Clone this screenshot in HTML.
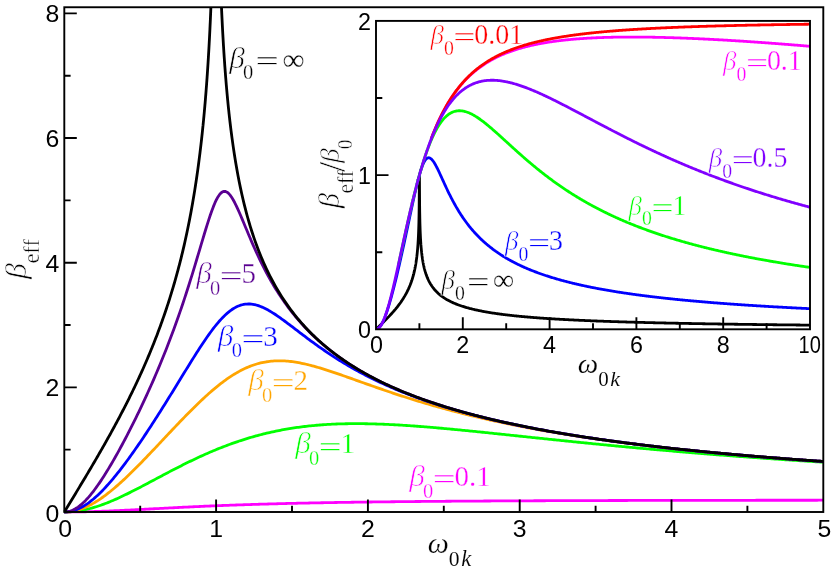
<!DOCTYPE html>
<html lang="en"><head><meta charset="utf-8"><title>beta_eff vs omega_0k</title>
<style>html,body{margin:0;padding:0;background:#fff}svg{display:block}</style></head>
<body>
<svg width="831" height="571" viewBox="0 0 831 571">
<rect width="831" height="571" fill="#fff"/>
<defs><clipPath id="cm"><rect x="63.3" y="7.25" width="760.0" height="506.75"/></clipPath><clipPath id="ci"><rect x="376.0" y="20.9" width="434.0" height="308.40000000000003"/></clipPath></defs>
<g clip-path="url(#cm)" fill="none" stroke-linejoin="round" stroke-linecap="butt" stroke-width="2.8">
<path d="M64.32,512.00 L65.84,512.00 L67.36,511.99 L68.88,511.99 L70.40,511.98 L71.92,511.97 L73.44,511.95 L74.96,511.94 L76.48,511.92 L78.00,511.90 L79.53,511.88 L81.05,511.85 L82.57,511.82 L84.09,511.79 L85.61,511.76 L87.13,511.72 L88.65,511.69 L90.17,511.65 L91.69,511.61 L93.21,511.56 L94.74,511.52 L96.26,511.47 L97.78,511.42 L99.30,511.37 L100.82,511.32 L102.34,511.26 L103.86,511.21 L105.38,511.15 L106.90,511.09 L108.42,511.03 L109.95,510.97 L111.47,510.90 L112.99,510.84 L114.51,510.77 L116.03,510.70 L117.55,510.63 L119.07,510.56 L120.59,510.49 L122.11,510.42 L123.63,510.35 L125.16,510.27 L126.68,510.20 L128.20,510.12 L129.72,510.05 L131.24,509.97 L132.76,509.89 L134.28,509.82 L135.80,509.74 L137.32,509.66 L138.84,509.58 L140.37,509.50 L141.89,509.42 L143.41,509.34 L144.93,509.26 L146.45,509.18 L147.97,509.10 L149.49,509.01 L151.01,508.93 L152.53,508.85 L154.05,508.77 L155.58,508.69 L157.10,508.61 L158.62,508.53 L160.14,508.45 L161.66,508.37 L163.18,508.29 L164.70,508.21 L166.22,508.13 L167.74,508.05 L169.26,507.97 L170.79,507.89 L172.31,507.81 L173.83,507.73 L175.35,507.65 L176.87,507.58 L178.39,507.50 L179.91,507.42 L181.43,507.35 L182.95,507.27 L184.48,507.20 L186.00,507.12 L187.52,507.05 L189.04,506.98 L190.56,506.90 L192.08,506.83 L193.60,506.76 L195.12,506.69 L196.64,506.62 L198.16,506.55 L199.69,506.48 L201.21,506.41 L202.73,506.34 L204.25,506.27 L205.77,506.21 L207.29,506.14 L208.81,506.07 L210.33,506.01 L211.85,505.94 L213.37,505.88 L214.90,505.82 L216.42,505.75 L217.94,505.69 L219.46,505.63 L220.98,505.57 L222.50,505.51 L224.02,505.45 L225.54,505.39 L227.06,505.33 L228.58,505.28 L230.11,505.22 L231.63,505.16 L233.15,505.11 L234.67,505.05 L236.19,505.00 L237.71,504.94 L239.23,504.89 L240.75,504.84 L242.27,504.78 L243.79,504.73 L245.32,504.68 L246.84,504.63 L248.36,504.58 L249.88,504.53 L251.40,504.48 L252.92,504.43 L254.44,504.39 L255.96,504.34 L257.48,504.29 L259.00,504.25 L260.53,504.20 L262.05,504.16 L263.57,504.11 L265.09,504.07 L266.61,504.03 L268.13,503.98 L269.65,503.94 L271.17,503.90 L272.69,503.86 L274.21,503.82 L275.74,503.78 L277.26,503.74 L278.78,503.70 L280.30,503.66 L281.82,503.62 L283.34,503.58 L284.86,503.54 L286.38,503.51 L287.90,503.47 L289.42,503.43 L290.95,503.40 L292.47,503.36 L293.99,503.33 L295.51,503.29 L297.03,503.26 L298.55,503.22 L300.07,503.19 L301.59,503.16 L303.11,503.12 L304.64,503.09 L306.16,503.06 L307.68,503.03 L309.20,503.00 L310.72,502.97 L312.24,502.94 L313.76,502.91 L315.28,502.88 L316.80,502.85 L318.32,502.82 L319.85,502.79 L321.37,502.76 L322.89,502.73 L324.41,502.71 L325.93,502.68 L327.45,502.65 L328.97,502.63 L330.49,502.60 L332.01,502.57 L333.53,502.55 L335.06,502.52 L336.58,502.50 L338.10,502.47 L339.62,502.45 L341.14,502.42 L342.66,502.40 L344.18,502.38 L345.70,502.35 L347.22,502.33 L348.74,502.31 L350.27,502.28 L351.79,502.26 L353.31,502.24 L354.83,502.22 L356.35,502.20 L357.87,502.17 L359.39,502.15 L360.91,502.13 L362.43,502.11 L363.95,502.09 L365.48,502.07 L367.00,502.05 L368.52,502.03 L370.04,502.01 L371.56,501.99 L373.08,501.97 L374.60,501.95 L376.12,501.94 L377.64,501.92 L379.16,501.90 L380.69,501.88 L382.21,501.86 L383.73,501.85 L385.25,501.83 L386.77,501.81 L388.29,501.79 L389.81,501.78 L391.33,501.76 L392.85,501.74 L394.37,501.73 L395.90,501.71 L397.42,501.70 L398.94,501.68 L400.46,501.66 L401.98,501.65 L403.50,501.63 L405.02,501.62 L406.54,501.60 L408.06,501.59 L409.58,501.57 L411.11,501.56 L412.63,501.54 L414.15,501.53 L415.67,501.52 L417.19,501.50 L418.71,501.49 L420.23,501.48 L421.75,501.46 L423.27,501.45 L424.79,501.44 L426.32,501.42 L427.84,501.41 L429.36,501.40 L430.88,501.38 L432.40,501.37 L433.92,501.36 L435.44,501.35 L436.96,501.34 L438.48,501.32 L440.01,501.31 L441.53,501.30 L443.05,501.29 L444.57,501.28 L446.09,501.27 L447.61,501.25 L449.13,501.24 L450.65,501.23 L452.17,501.22 L453.69,501.21 L455.22,501.20 L456.74,501.19 L458.26,501.18 L459.78,501.17 L461.30,501.16 L462.82,501.15 L464.34,501.14 L465.86,501.13 L467.38,501.12 L468.90,501.11 L470.43,501.10 L471.95,501.09 L473.47,501.08 L474.99,501.07 L476.51,501.06 L478.03,501.05 L479.55,501.04 L481.07,501.03 L482.59,501.03 L484.11,501.02 L485.64,501.01 L487.16,501.00 L488.68,500.99 L490.20,500.98 L491.72,500.97 L493.24,500.97 L494.76,500.96 L496.28,500.95 L497.80,500.94 L499.32,500.93 L500.85,500.93 L502.37,500.92 L503.89,500.91 L505.41,500.90 L506.93,500.89 L508.45,500.89 L509.97,500.88 L511.49,500.87 L513.01,500.87 L514.53,500.86 L516.06,500.85 L517.58,500.84 L519.10,500.84 L520.62,500.83 L522.14,500.82 L523.66,500.82 L525.18,500.81 L526.70,500.80 L528.22,500.80 L529.74,500.79 L531.27,500.78 L532.79,500.78 L534.31,500.77 L535.83,500.76 L537.35,500.76 L538.87,500.75 L540.39,500.75 L541.91,500.74 L543.43,500.73 L544.95,500.73 L546.48,500.72 L548.00,500.72 L549.52,500.71 L551.04,500.70 L552.56,500.70 L554.08,500.69 L555.60,500.69 L557.12,500.68 L558.64,500.68 L560.16,500.67 L561.69,500.67 L563.21,500.66 L564.73,500.66 L566.25,500.65 L567.77,500.65 L569.29,500.64 L570.81,500.63 L572.33,500.63 L573.85,500.63 L575.38,500.62 L576.90,500.62 L578.42,500.61 L579.94,500.61 L581.46,500.60 L582.98,500.60 L584.50,500.59 L586.02,500.59 L587.54,500.58 L589.06,500.58 L590.59,500.57 L592.11,500.57 L593.63,500.56 L595.15,500.56 L596.67,500.56 L598.19,500.55 L599.71,500.55 L601.23,500.54 L602.75,500.54 L604.27,500.54 L605.80,500.53 L607.32,500.53 L608.84,500.52 L610.36,500.52 L611.88,500.52 L613.40,500.51 L614.92,500.51 L616.44,500.50 L617.96,500.50 L619.48,500.50 L621.01,500.49 L622.53,500.49 L624.05,500.49 L625.57,500.48 L627.09,500.48 L628.61,500.47 L630.13,500.47 L631.65,500.47 L633.17,500.46 L634.69,500.46 L636.22,500.46 L637.74,500.45 L639.26,500.45 L640.78,500.45 L642.30,500.44 L643.82,500.44 L645.34,500.44 L646.86,500.43 L648.38,500.43 L649.90,500.43 L651.43,500.43 L652.95,500.42 L654.47,500.42 L655.99,500.42 L657.51,500.41 L659.03,500.41 L660.55,500.41 L662.07,500.40 L663.59,500.40 L665.11,500.40 L666.64,500.40 L668.16,500.39 L669.68,500.39 L671.20,500.39 L672.72,500.39 L674.24,500.38 L675.76,500.38 L677.28,500.38 L678.80,500.38 L680.32,500.37 L681.85,500.37 L683.37,500.37 L684.89,500.37 L686.41,500.36 L687.93,500.36 L689.45,500.36 L690.97,500.36 L692.49,500.35 L694.01,500.35 L695.54,500.35 L697.06,500.35 L698.58,500.34 L700.10,500.34 L701.62,500.34 L703.14,500.34 L704.66,500.34 L706.18,500.33 L707.70,500.33 L709.22,500.33 L710.75,500.33 L712.27,500.32 L713.79,500.32 L715.31,500.32 L716.83,500.32 L718.35,500.32 L719.87,500.31 L721.39,500.31 L722.91,500.31 L724.43,500.31 L725.96,500.31 L727.48,500.31 L729.00,500.30 L730.52,500.30 L732.04,500.30 L733.56,500.30 L735.08,500.30 L736.60,500.29 L738.12,500.29 L739.64,500.29 L741.17,500.29 L742.69,500.29 L744.21,500.29 L745.73,500.28 L747.25,500.28 L748.77,500.28 L750.29,500.28 L751.81,500.28 L753.33,500.28 L754.85,500.28 L756.38,500.27 L757.90,500.27 L759.42,500.27 L760.94,500.27 L762.46,500.27 L763.98,500.27 L765.50,500.26 L767.02,500.26 L768.54,500.26 L770.06,500.26 L771.59,500.26 L773.11,500.26 L774.63,500.26 L776.15,500.26 L777.67,500.25 L779.19,500.25 L780.71,500.25 L782.23,500.25 L783.75,500.25 L785.27,500.25 L786.80,500.25 L788.32,500.25 L789.84,500.24 L791.36,500.24 L792.88,500.24 L794.40,500.24 L795.92,500.24 L797.44,500.24 L798.96,500.24 L800.48,500.24 L802.01,500.24 L803.53,500.23 L805.05,500.23 L806.57,500.23 L808.09,500.23 L809.61,500.23 L811.13,500.23 L812.65,500.23 L814.17,500.23 L815.69,500.23 L817.22,500.23 L818.74,500.22 L820.26,500.22 L821.78,500.22 L823.30,500.22" stroke="#ff00ff"/>
<path d="M64.32,512.00 L65.84,511.99 L67.36,511.95 L68.88,511.89 L70.40,511.80 L71.92,511.69 L73.44,511.55 L74.96,511.39 L76.48,511.20 L78.00,510.99 L79.53,510.76 L81.05,510.50 L82.57,510.22 L84.09,509.92 L85.61,509.59 L87.13,509.25 L88.65,508.88 L90.17,508.49 L91.69,508.08 L93.21,507.65 L94.74,507.20 L96.26,506.73 L97.78,506.24 L99.30,505.73 L100.82,505.21 L102.34,504.66 L103.86,504.11 L105.38,503.53 L106.90,502.94 L108.42,502.34 L109.95,501.72 L111.47,501.08 L112.99,500.44 L114.51,499.78 L116.03,499.11 L117.55,498.43 L119.07,497.73 L120.59,497.03 L122.11,496.31 L123.63,495.59 L125.16,494.86 L126.68,494.12 L128.20,493.37 L129.72,492.62 L131.24,491.85 L132.76,491.09 L134.28,490.31 L135.80,489.53 L137.32,488.75 L138.84,487.96 L140.37,487.17 L141.89,486.37 L143.41,485.57 L144.93,484.77 L146.45,483.97 L147.97,483.16 L149.49,482.35 L151.01,481.55 L152.53,480.74 L154.05,479.93 L155.58,479.12 L157.10,478.31 L158.62,477.50 L160.14,476.69 L161.66,475.89 L163.18,475.08 L164.70,474.28 L166.22,473.48 L167.74,472.68 L169.26,471.88 L170.79,471.09 L172.31,470.30 L173.83,469.51 L175.35,468.72 L176.87,467.94 L178.39,467.17 L179.91,466.40 L181.43,465.63 L182.95,464.87 L184.48,464.11 L186.00,463.35 L187.52,462.61 L189.04,461.86 L190.56,461.13 L192.08,460.39 L193.60,459.67 L195.12,458.95 L196.64,458.23 L198.16,457.52 L199.69,456.82 L201.21,456.13 L202.73,455.44 L204.25,454.75 L205.77,454.08 L207.29,453.41 L208.81,452.75 L210.33,452.09 L211.85,451.44 L213.37,450.80 L214.90,450.17 L216.42,449.54 L217.94,448.92 L219.46,448.31 L220.98,447.70 L222.50,447.11 L224.02,446.52 L225.54,445.94 L227.06,445.36 L228.58,444.80 L230.11,444.24 L231.63,443.69 L233.15,443.15 L234.67,442.61 L236.19,442.08 L237.71,441.57 L239.23,441.05 L240.75,440.55 L242.27,440.06 L243.79,439.57 L245.32,439.09 L246.84,438.62 L248.36,438.16 L249.88,437.70 L251.40,437.26 L252.92,436.82 L254.44,436.39 L255.96,435.96 L257.48,435.55 L259.00,435.14 L260.53,434.74 L262.05,434.35 L263.57,433.97 L265.09,433.60 L266.61,433.23 L268.13,432.87 L269.65,432.52 L271.17,432.17 L272.69,431.84 L274.21,431.51 L275.74,431.19 L277.26,430.88 L278.78,430.57 L280.30,430.27 L281.82,429.98 L283.34,429.70 L284.86,429.42 L286.38,429.16 L287.90,428.90 L289.42,428.64 L290.95,428.40 L292.47,428.16 L293.99,427.92 L295.51,427.70 L297.03,427.48 L298.55,427.27 L300.07,427.06 L301.59,426.87 L303.11,426.68 L304.64,426.49 L306.16,426.31 L307.68,426.14 L309.20,425.98 L310.72,425.82 L312.24,425.67 L313.76,425.52 L315.28,425.38 L316.80,425.25 L318.32,425.12 L319.85,425.00 L321.37,424.88 L322.89,424.77 L324.41,424.66 L325.93,424.57 L327.45,424.47 L328.97,424.38 L330.49,424.30 L332.01,424.22 L333.53,424.15 L335.06,424.09 L336.58,424.02 L338.10,423.97 L339.62,423.92 L341.14,423.87 L342.66,423.83 L344.18,423.79 L345.70,423.76 L347.22,423.73 L348.74,423.71 L350.27,423.69 L351.79,423.67 L353.31,423.66 L354.83,423.66 L356.35,423.65 L357.87,423.66 L359.39,423.66 L360.91,423.67 L362.43,423.69 L363.95,423.71 L365.48,423.73 L367.00,423.75 L368.52,423.78 L370.04,423.81 L371.56,423.85 L373.08,423.89 L374.60,423.93 L376.12,423.98 L377.64,424.03 L379.16,424.08 L380.69,424.14 L382.21,424.20 L383.73,424.26 L385.25,424.32 L386.77,424.39 L388.29,424.46 L389.81,424.53 L391.33,424.61 L392.85,424.69 L394.37,424.77 L395.90,424.85 L397.42,424.94 L398.94,425.02 L400.46,425.11 L401.98,425.21 L403.50,425.30 L405.02,425.40 L406.54,425.50 L408.06,425.60 L409.58,425.70 L411.11,425.81 L412.63,425.92 L414.15,426.02 L415.67,426.14 L417.19,426.25 L418.71,426.36 L420.23,426.48 L421.75,426.60 L423.27,426.72 L424.79,426.84 L426.32,426.96 L427.84,427.09 L429.36,427.21 L430.88,427.34 L432.40,427.47 L433.92,427.60 L435.44,427.73 L436.96,427.86 L438.48,427.99 L440.01,428.13 L441.53,428.26 L443.05,428.40 L444.57,428.54 L446.09,428.68 L447.61,428.82 L449.13,428.96 L450.65,429.10 L452.17,429.25 L453.69,429.39 L455.22,429.53 L456.74,429.68 L458.26,429.83 L459.78,429.97 L461.30,430.12 L462.82,430.27 L464.34,430.42 L465.86,430.57 L467.38,430.72 L468.90,430.87 L470.43,431.02 L471.95,431.18 L473.47,431.33 L474.99,431.48 L476.51,431.64 L478.03,431.79 L479.55,431.95 L481.07,432.10 L482.59,432.26 L484.11,432.42 L485.64,432.57 L487.16,432.73 L488.68,432.89 L490.20,433.04 L491.72,433.20 L493.24,433.36 L494.76,433.52 L496.28,433.68 L497.80,433.84 L499.32,434.00 L500.85,434.16 L502.37,434.32 L503.89,434.47 L505.41,434.63 L506.93,434.79 L508.45,434.95 L509.97,435.11 L511.49,435.28 L513.01,435.44 L514.53,435.60 L516.06,435.76 L517.58,435.92 L519.10,436.08 L520.62,436.24 L522.14,436.40 L523.66,436.56 L525.18,436.72 L526.70,436.88 L528.22,437.04 L529.74,437.20 L531.27,437.36 L532.79,437.52 L534.31,437.68 L535.83,437.84 L537.35,438.00 L538.87,438.16 L540.39,438.32 L541.91,438.48 L543.43,438.64 L544.95,438.80 L546.48,438.96 L548.00,439.12 L549.52,439.28 L551.04,439.43 L552.56,439.59 L554.08,439.75 L555.60,439.91 L557.12,440.07 L558.64,440.22 L560.16,440.38 L561.69,440.54 L563.21,440.69 L564.73,440.85 L566.25,441.01 L567.77,441.16 L569.29,441.32 L570.81,441.47 L572.33,441.63 L573.85,441.78 L575.38,441.94 L576.90,442.09 L578.42,442.25 L579.94,442.40 L581.46,442.55 L582.98,442.71 L584.50,442.86 L586.02,443.01 L587.54,443.17 L589.06,443.32 L590.59,443.47 L592.11,443.62 L593.63,443.77 L595.15,443.92 L596.67,444.07 L598.19,444.22 L599.71,444.37 L601.23,444.52 L602.75,444.67 L604.27,444.82 L605.80,444.97 L607.32,445.11 L608.84,445.26 L610.36,445.41 L611.88,445.56 L613.40,445.70 L614.92,445.85 L616.44,445.99 L617.96,446.14 L619.48,446.28 L621.01,446.43 L622.53,446.57 L624.05,446.72 L625.57,446.86 L627.09,447.00 L628.61,447.14 L630.13,447.29 L631.65,447.43 L633.17,447.57 L634.69,447.71 L636.22,447.85 L637.74,447.99 L639.26,448.13 L640.78,448.27 L642.30,448.41 L643.82,448.55 L645.34,448.69 L646.86,448.83 L648.38,448.96 L649.90,449.10 L651.43,449.24 L652.95,449.37 L654.47,449.51 L655.99,449.64 L657.51,449.78 L659.03,449.91 L660.55,450.05 L662.07,450.18 L663.59,450.32 L665.11,450.45 L666.64,450.58 L668.16,450.71 L669.68,450.85 L671.20,450.98 L672.72,451.11 L674.24,451.24 L675.76,451.37 L677.28,451.50 L678.80,451.63 L680.32,451.76 L681.85,451.89 L683.37,452.02 L684.89,452.14 L686.41,452.27 L687.93,452.40 L689.45,452.53 L690.97,452.65 L692.49,452.78 L694.01,452.90 L695.54,453.03 L697.06,453.15 L698.58,453.28 L700.10,453.40 L701.62,453.52 L703.14,453.65 L704.66,453.77 L706.18,453.89 L707.70,454.01 L709.22,454.14 L710.75,454.26 L712.27,454.38 L713.79,454.50 L715.31,454.62 L716.83,454.74 L718.35,454.86 L719.87,454.98 L721.39,455.10 L722.91,455.21 L724.43,455.33 L725.96,455.45 L727.48,455.57 L729.00,455.68 L730.52,455.80 L732.04,455.91 L733.56,456.03 L735.08,456.14 L736.60,456.26 L738.12,456.37 L739.64,456.49 L741.17,456.60 L742.69,456.71 L744.21,456.83 L745.73,456.94 L747.25,457.05 L748.77,457.16 L750.29,457.27 L751.81,457.39 L753.33,457.50 L754.85,457.61 L756.38,457.72 L757.90,457.83 L759.42,457.93 L760.94,458.04 L762.46,458.15 L763.98,458.26 L765.50,458.37 L767.02,458.48 L768.54,458.58 L770.06,458.69 L771.59,458.80 L773.11,458.90 L774.63,459.01 L776.15,459.11 L777.67,459.22 L779.19,459.32 L780.71,459.43 L782.23,459.53 L783.75,459.63 L785.27,459.74 L786.80,459.84 L788.32,459.94 L789.84,460.04 L791.36,460.15 L792.88,460.25 L794.40,460.35 L795.92,460.45 L797.44,460.55 L798.96,460.65 L800.48,460.75 L802.01,460.85 L803.53,460.95 L805.05,461.05 L806.57,461.14 L808.09,461.24 L809.61,461.34 L811.13,461.44 L812.65,461.54 L814.17,461.63 L815.69,461.73 L817.22,461.82 L818.74,461.92 L820.26,462.02 L821.78,462.11 L823.30,462.21" stroke="#00ff00"/>
<path d="M64.32,512.00 L65.84,511.97 L67.36,511.90 L68.88,511.77 L70.40,511.60 L71.92,511.37 L73.44,511.10 L74.96,510.78 L76.48,510.41 L78.00,509.99 L79.53,509.52 L81.05,509.01 L82.57,508.46 L84.09,507.86 L85.61,507.21 L87.13,506.52 L88.65,505.79 L90.17,505.02 L91.69,504.21 L93.21,503.36 L94.74,502.47 L96.26,501.55 L97.78,500.59 L99.30,499.59 L100.82,498.57 L102.34,497.50 L103.86,496.41 L105.38,495.29 L106.90,494.14 L108.42,492.96 L109.95,491.75 L111.47,490.52 L112.99,489.26 L114.51,487.98 L116.03,486.68 L117.55,485.35 L119.07,484.00 L120.59,482.64 L122.11,481.25 L123.63,479.85 L125.16,478.43 L126.68,476.99 L128.20,475.54 L129.72,474.07 L131.24,472.59 L132.76,471.10 L134.28,469.59 L135.80,468.07 L137.32,466.54 L138.84,465.00 L140.37,463.45 L141.89,461.90 L143.41,460.33 L144.93,458.76 L146.45,457.18 L147.97,455.59 L149.49,454.00 L151.01,452.40 L152.53,450.80 L154.05,449.20 L155.58,447.59 L157.10,445.98 L158.62,444.36 L160.14,442.75 L161.66,441.13 L163.18,439.51 L164.70,437.89 L166.22,436.28 L167.74,434.66 L169.26,433.05 L170.79,431.43 L172.31,429.82 L173.83,428.22 L175.35,426.62 L176.87,425.02 L178.39,423.42 L179.91,421.84 L181.43,420.26 L182.95,418.68 L184.48,417.11 L186.00,415.55 L187.52,414.00 L189.04,412.46 L190.56,410.93 L192.08,409.41 L193.60,407.90 L195.12,406.40 L196.64,404.92 L198.16,403.44 L199.69,401.99 L201.21,400.54 L202.73,399.12 L204.25,397.70 L205.77,396.31 L207.29,394.93 L208.81,393.57 L210.33,392.23 L211.85,390.91 L213.37,389.61 L214.90,388.34 L216.42,387.08 L217.94,385.85 L219.46,384.64 L220.98,383.45 L222.50,382.29 L224.02,381.16 L225.54,380.05 L227.06,378.97 L228.58,377.92 L230.11,376.89 L231.63,375.90 L233.15,374.93 L234.67,373.99 L236.19,373.09 L237.71,372.21 L239.23,371.37 L240.75,370.56 L242.27,369.78 L243.79,369.03 L245.32,368.31 L246.84,367.63 L248.36,366.98 L249.88,366.36 L251.40,365.78 L252.92,365.23 L254.44,364.72 L255.96,364.23 L257.48,363.78 L259.00,363.36 L260.53,362.98 L262.05,362.63 L263.57,362.31 L265.09,362.02 L266.61,361.76 L268.13,361.54 L269.65,361.34 L271.17,361.18 L272.69,361.04 L274.21,360.94 L275.74,360.86 L277.26,360.81 L278.78,360.79 L280.30,360.79 L281.82,360.82 L283.34,360.88 L284.86,360.96 L286.38,361.06 L287.90,361.19 L289.42,361.34 L290.95,361.51 L292.47,361.70 L293.99,361.91 L295.51,362.15 L297.03,362.40 L298.55,362.67 L300.07,362.95 L301.59,363.26 L303.11,363.57 L304.64,363.91 L306.16,364.26 L307.68,364.62 L309.20,364.99 L310.72,365.38 L312.24,365.78 L313.76,366.19 L315.28,366.62 L316.80,367.05 L318.32,367.49 L319.85,367.94 L321.37,368.40 L322.89,368.87 L324.41,369.34 L325.93,369.83 L327.45,370.31 L328.97,370.81 L330.49,371.31 L332.01,371.81 L333.53,372.32 L335.06,372.84 L336.58,373.36 L338.10,373.88 L339.62,374.40 L341.14,374.93 L342.66,375.46 L344.18,376.00 L345.70,376.53 L347.22,377.07 L348.74,377.61 L350.27,378.15 L351.79,378.69 L353.31,379.23 L354.83,379.77 L356.35,380.32 L357.87,380.86 L359.39,381.40 L360.91,381.95 L362.43,382.49 L363.95,383.03 L365.48,383.57 L367.00,384.11 L368.52,384.65 L370.04,385.19 L371.56,385.72 L373.08,386.26 L374.60,386.79 L376.12,387.33 L377.64,387.86 L379.16,388.38 L380.69,388.91 L382.21,389.44 L383.73,389.96 L385.25,390.48 L386.77,391.00 L388.29,391.51 L389.81,392.03 L391.33,392.54 L392.85,393.05 L394.37,393.56 L395.90,394.06 L397.42,394.56 L398.94,395.06 L400.46,395.56 L401.98,396.05 L403.50,396.54 L405.02,397.03 L406.54,397.52 L408.06,398.00 L409.58,398.48 L411.11,398.96 L412.63,399.43 L414.15,399.91 L415.67,400.38 L417.19,400.84 L418.71,401.31 L420.23,401.77 L421.75,402.22 L423.27,402.68 L424.79,403.13 L426.32,403.58 L427.84,404.03 L429.36,404.47 L430.88,404.91 L432.40,405.35 L433.92,405.79 L435.44,406.22 L436.96,406.65 L438.48,407.07 L440.01,407.50 L441.53,407.92 L443.05,408.34 L444.57,408.75 L446.09,409.17 L447.61,409.58 L449.13,409.98 L450.65,410.39 L452.17,410.79 L453.69,411.19 L455.22,411.59 L456.74,411.98 L458.26,412.37 L459.78,412.76 L461.30,413.15 L462.82,413.53 L464.34,413.91 L465.86,414.29 L467.38,414.67 L468.90,415.04 L470.43,415.41 L471.95,415.78 L473.47,416.15 L474.99,416.51 L476.51,416.87 L478.03,417.23 L479.55,417.58 L481.07,417.94 L482.59,418.29 L484.11,418.64 L485.64,418.99 L487.16,419.33 L488.68,419.67 L490.20,420.01 L491.72,420.35 L493.24,420.68 L494.76,421.02 L496.28,421.35 L497.80,421.68 L499.32,422.00 L500.85,422.33 L502.37,422.65 L503.89,422.97 L505.41,423.28 L506.93,423.60 L508.45,423.91 L509.97,424.23 L511.49,424.53 L513.01,424.84 L514.53,425.15 L516.06,425.45 L517.58,425.75 L519.10,426.05 L520.62,426.35 L522.14,426.64 L523.66,426.94 L525.18,427.23 L526.70,427.52 L528.22,427.81 L529.74,428.09 L531.27,428.38 L532.79,428.66 L534.31,428.94 L535.83,429.22 L537.35,429.49 L538.87,429.77 L540.39,430.04 L541.91,430.31 L543.43,430.58 L544.95,430.85 L546.48,431.12 L548.00,431.38 L549.52,431.65 L551.04,431.91 L552.56,432.17 L554.08,432.43 L555.60,432.68 L557.12,432.94 L558.64,433.19 L560.16,433.44 L561.69,433.69 L563.21,433.94 L564.73,434.19 L566.25,434.43 L567.77,434.68 L569.29,434.92 L570.81,435.16 L572.33,435.40 L573.85,435.64 L575.38,435.88 L576.90,436.11 L578.42,436.35 L579.94,436.58 L581.46,436.81 L582.98,437.04 L584.50,437.27 L586.02,437.49 L587.54,437.72 L589.06,437.94 L590.59,438.17 L592.11,438.39 L593.63,438.61 L595.15,438.83 L596.67,439.05 L598.19,439.26 L599.71,439.48 L601.23,439.69 L602.75,439.90 L604.27,440.12 L605.80,440.33 L607.32,440.53 L608.84,440.74 L610.36,440.95 L611.88,441.15 L613.40,441.36 L614.92,441.56 L616.44,441.76 L617.96,441.97 L619.48,442.16 L621.01,442.36 L622.53,442.56 L624.05,442.76 L625.57,442.95 L627.09,443.15 L628.61,443.34 L630.13,443.53 L631.65,443.72 L633.17,443.91 L634.69,444.10 L636.22,444.29 L637.74,444.48 L639.26,444.66 L640.78,444.85 L642.30,445.03 L643.82,445.21 L645.34,445.39 L646.86,445.57 L648.38,445.75 L649.90,445.93 L651.43,446.11 L652.95,446.29 L654.47,446.46 L655.99,446.64 L657.51,446.81 L659.03,446.99 L660.55,447.16 L662.07,447.33 L663.59,447.50 L665.11,447.67 L666.64,447.84 L668.16,448.01 L669.68,448.17 L671.20,448.34 L672.72,448.50 L674.24,448.67 L675.76,448.83 L677.28,448.99 L678.80,449.16 L680.32,449.32 L681.85,449.48 L683.37,449.64 L684.89,449.79 L686.41,449.95 L687.93,450.11 L689.45,450.26 L690.97,450.42 L692.49,450.57 L694.01,450.73 L695.54,450.88 L697.06,451.03 L698.58,451.18 L700.10,451.33 L701.62,451.48 L703.14,451.63 L704.66,451.78 L706.18,451.93 L707.70,452.08 L709.22,452.22 L710.75,452.37 L712.27,452.51 L713.79,452.66 L715.31,452.80 L716.83,452.94 L718.35,453.09 L719.87,453.23 L721.39,453.37 L722.91,453.51 L724.43,453.65 L725.96,453.79 L727.48,453.92 L729.00,454.06 L730.52,454.20 L732.04,454.33 L733.56,454.47 L735.08,454.60 L736.60,454.74 L738.12,454.87 L739.64,455.00 L741.17,455.14 L742.69,455.27 L744.21,455.40 L745.73,455.53 L747.25,455.66 L748.77,455.79 L750.29,455.92 L751.81,456.04 L753.33,456.17 L754.85,456.30 L756.38,456.42 L757.90,456.55 L759.42,456.68 L760.94,456.80 L762.46,456.92 L763.98,457.05 L765.50,457.17 L767.02,457.29 L768.54,457.41 L770.06,457.54 L771.59,457.66 L773.11,457.78 L774.63,457.90 L776.15,458.01 L777.67,458.13 L779.19,458.25 L780.71,458.37 L782.23,458.49 L783.75,458.60 L785.27,458.72 L786.80,458.83 L788.32,458.95 L789.84,459.06 L791.36,459.18 L792.88,459.29 L794.40,459.40 L795.92,459.52 L797.44,459.63 L798.96,459.74 L800.48,459.85 L802.01,459.96 L803.53,460.07 L805.05,460.18 L806.57,460.29 L808.09,460.40 L809.61,460.51 L811.13,460.61 L812.65,460.72 L814.17,460.83 L815.69,460.93 L817.22,461.04 L818.74,461.15 L820.26,461.25 L821.78,461.36 L823.30,461.46" stroke="#ffa500"/>
<path d="M64.32,512.00 L65.84,511.96 L67.36,511.85 L68.88,511.66 L70.40,511.40 L71.92,511.06 L73.44,510.65 L74.96,510.17 L76.48,509.62 L78.00,508.99 L79.53,508.30 L81.05,507.54 L82.57,506.72 L84.09,505.82 L85.61,504.87 L87.13,503.85 L88.65,502.78 L90.17,501.64 L91.69,500.45 L93.21,499.21 L94.74,497.91 L96.26,496.56 L97.78,495.16 L99.30,493.71 L100.82,492.22 L102.34,490.68 L103.86,489.10 L105.38,487.48 L106.90,485.82 L108.42,484.12 L109.95,482.39 L111.47,480.62 L112.99,478.82 L114.51,476.98 L116.03,475.12 L117.55,473.22 L119.07,471.30 L120.59,469.35 L122.11,467.37 L123.63,465.37 L125.16,463.34 L126.68,461.29 L128.20,459.22 L129.72,457.13 L131.24,455.01 L132.76,452.88 L134.28,450.72 L135.80,448.55 L137.32,446.36 L138.84,444.15 L140.37,441.92 L141.89,439.68 L143.41,437.42 L144.93,435.15 L146.45,432.86 L147.97,430.56 L149.49,428.24 L151.01,425.91 L152.53,423.57 L154.05,421.22 L155.58,418.85 L157.10,416.47 L158.62,414.08 L160.14,411.68 L161.66,409.27 L163.18,406.85 L164.70,404.42 L166.22,401.98 L167.74,399.54 L169.26,397.09 L170.79,394.63 L172.31,392.16 L173.83,389.69 L175.35,387.22 L176.87,384.74 L178.39,382.26 L179.91,379.78 L181.43,377.30 L182.95,374.82 L184.48,372.35 L186.00,369.88 L187.52,367.41 L189.04,364.95 L190.56,362.50 L192.08,360.06 L193.60,357.63 L195.12,355.22 L196.64,352.83 L198.16,350.46 L199.69,348.10 L201.21,345.78 L202.73,343.48 L204.25,341.22 L205.77,338.98 L207.29,336.79 L208.81,334.64 L210.33,332.53 L211.85,330.47 L213.37,328.46 L214.90,326.51 L216.42,324.62 L217.94,322.79 L219.46,321.03 L220.98,319.34 L222.50,317.73 L224.02,316.19 L225.54,314.73 L227.06,313.36 L228.58,312.08 L230.11,310.88 L231.63,309.78 L233.15,308.77 L234.67,307.86 L236.19,307.04 L237.71,306.33 L239.23,305.70 L240.75,305.18 L242.27,304.75 L243.79,304.42 L245.32,304.19 L246.84,304.04 L248.36,303.99 L249.88,304.02 L251.40,304.14 L252.92,304.34 L254.44,304.62 L255.96,304.98 L257.48,305.41 L259.00,305.91 L260.53,306.47 L262.05,307.09 L263.57,307.76 L265.09,308.50 L266.61,309.28 L268.13,310.10 L269.65,310.97 L271.17,311.87 L272.69,312.82 L274.21,313.79 L275.74,314.79 L277.26,315.82 L278.78,316.87 L280.30,317.94 L281.82,319.03 L283.34,320.13 L284.86,321.25 L286.38,322.38 L287.90,323.52 L289.42,324.66 L290.95,325.81 L292.47,326.97 L293.99,328.13 L295.51,329.29 L297.03,330.45 L298.55,331.61 L300.07,332.77 L301.59,333.93 L303.11,335.08 L304.64,336.23 L306.16,337.37 L307.68,338.51 L309.20,339.64 L310.72,340.76 L312.24,341.88 L313.76,342.99 L315.28,344.09 L316.80,345.18 L318.32,346.27 L319.85,347.35 L321.37,348.41 L322.89,349.47 L324.41,350.52 L325.93,351.56 L327.45,352.59 L328.97,353.61 L330.49,354.62 L332.01,355.61 L333.53,356.60 L335.06,357.58 L336.58,358.55 L338.10,359.51 L339.62,360.47 L341.14,361.41 L342.66,362.34 L344.18,363.26 L345.70,364.17 L347.22,365.07 L348.74,365.96 L350.27,366.84 L351.79,367.72 L353.31,368.58 L354.83,369.43 L356.35,370.28 L357.87,371.11 L359.39,371.94 L360.91,372.76 L362.43,373.57 L363.95,374.37 L365.48,375.16 L367.00,375.94 L368.52,376.72 L370.04,377.48 L371.56,378.24 L373.08,378.99 L374.60,379.74 L376.12,380.47 L377.64,381.20 L379.16,381.91 L380.69,382.62 L382.21,383.33 L383.73,384.02 L385.25,384.71 L386.77,385.39 L388.29,386.07 L389.81,386.74 L391.33,387.40 L392.85,388.05 L394.37,388.70 L395.90,389.34 L397.42,389.97 L398.94,390.60 L400.46,391.22 L401.98,391.83 L403.50,392.44 L405.02,393.04 L406.54,393.64 L408.06,394.23 L409.58,394.81 L411.11,395.39 L412.63,395.96 L414.15,396.53 L415.67,397.09 L417.19,397.65 L418.71,398.20 L420.23,398.74 L421.75,399.28 L423.27,399.82 L424.79,400.35 L426.32,400.87 L427.84,401.39 L429.36,401.90 L430.88,402.41 L432.40,402.92 L433.92,403.42 L435.44,403.91 L436.96,404.41 L438.48,404.89 L440.01,405.37 L441.53,405.85 L443.05,406.32 L444.57,406.79 L446.09,407.26 L447.61,407.72 L449.13,408.17 L450.65,408.63 L452.17,409.08 L453.69,409.52 L455.22,409.96 L456.74,410.40 L458.26,410.83 L459.78,411.26 L461.30,411.68 L462.82,412.11 L464.34,412.52 L465.86,412.94 L467.38,413.35 L468.90,413.76 L470.43,414.16 L471.95,414.56 L473.47,414.96 L474.99,415.35 L476.51,415.74 L478.03,416.13 L479.55,416.51 L481.07,416.89 L482.59,417.27 L484.11,417.65 L485.64,418.02 L487.16,418.39 L488.68,418.75 L490.20,419.12 L491.72,419.48 L493.24,419.83 L494.76,420.19 L496.28,420.54 L497.80,420.89 L499.32,421.23 L500.85,421.58 L502.37,421.92 L503.89,422.26 L505.41,422.59 L506.93,422.92 L508.45,423.25 L509.97,423.58 L511.49,423.91 L513.01,424.23 L514.53,424.55 L516.06,424.87 L517.58,425.18 L519.10,425.50 L520.62,425.81 L522.14,426.12 L523.66,426.42 L525.18,426.73 L526.70,427.03 L528.22,427.33 L529.74,427.63 L531.27,427.92 L532.79,428.22 L534.31,428.51 L535.83,428.80 L537.35,429.08 L538.87,429.37 L540.39,429.65 L541.91,429.93 L543.43,430.21 L544.95,430.49 L546.48,430.76 L548.00,431.04 L549.52,431.31 L551.04,431.58 L552.56,431.85 L554.08,432.11 L555.60,432.38 L557.12,432.64 L558.64,432.90 L560.16,433.16 L561.69,433.42 L563.21,433.67 L564.73,433.92 L566.25,434.18 L567.77,434.43 L569.29,434.68 L570.81,434.92 L572.33,435.17 L573.85,435.41 L575.38,435.65 L576.90,435.89 L578.42,436.13 L579.94,436.37 L581.46,436.61 L582.98,436.84 L584.50,437.07 L586.02,437.31 L587.54,437.54 L589.06,437.77 L590.59,437.99 L592.11,438.22 L593.63,438.44 L595.15,438.67 L596.67,438.89 L598.19,439.11 L599.71,439.33 L601.23,439.54 L602.75,439.76 L604.27,439.97 L605.80,440.19 L607.32,440.40 L608.84,440.61 L610.36,440.82 L611.88,441.03 L613.40,441.24 L614.92,441.44 L616.44,441.65 L617.96,441.85 L619.48,442.05 L621.01,442.26 L622.53,442.46 L624.05,442.65 L625.57,442.85 L627.09,443.05 L628.61,443.24 L630.13,443.44 L631.65,443.63 L633.17,443.82 L634.69,444.01 L636.22,444.20 L637.74,444.39 L639.26,444.58 L640.78,444.77 L642.30,444.95 L643.82,445.14 L645.34,445.32 L646.86,445.50 L648.38,445.68 L649.90,445.86 L651.43,446.04 L652.95,446.22 L654.47,446.40 L655.99,446.58 L657.51,446.75 L659.03,446.93 L660.55,447.10 L662.07,447.27 L663.59,447.44 L665.11,447.61 L666.64,447.78 L668.16,447.95 L669.68,448.12 L671.20,448.29 L672.72,448.45 L674.24,448.62 L675.76,448.78 L677.28,448.95 L678.80,449.11 L680.32,449.27 L681.85,449.43 L683.37,449.59 L684.89,449.75 L686.41,449.91 L687.93,450.07 L689.45,450.23 L690.97,450.38 L692.49,450.54 L694.01,450.69 L695.54,450.85 L697.06,451.00 L698.58,451.15 L700.10,451.30 L701.62,451.45 L703.14,451.60 L704.66,451.75 L706.18,451.90 L707.70,452.05 L709.22,452.20 L710.75,452.34 L712.27,452.49 L713.79,452.63 L715.31,452.78 L716.83,452.92 L718.35,453.06 L719.87,453.20 L721.39,453.34 L722.91,453.48 L724.43,453.62 L725.96,453.76 L727.48,453.90 L729.00,454.04 L730.52,454.18 L732.04,454.31 L733.56,454.45 L735.08,454.58 L736.60,454.72 L738.12,454.85 L739.64,454.99 L741.17,455.12 L742.69,455.25 L744.21,455.38 L745.73,455.51 L747.25,455.64 L748.77,455.77 L750.29,455.90 L751.81,456.03 L753.33,456.16 L754.85,456.28 L756.38,456.41 L757.90,456.54 L759.42,456.66 L760.94,456.79 L762.46,456.91 L763.98,457.04 L765.50,457.16 L767.02,457.28 L768.54,457.40 L770.06,457.52 L771.59,457.65 L773.11,457.77 L774.63,457.89 L776.15,458.00 L777.67,458.12 L779.19,458.24 L780.71,458.36 L782.23,458.48 L783.75,458.59 L785.27,458.71 L786.80,458.82 L788.32,458.94 L789.84,459.05 L791.36,459.17 L792.88,459.28 L794.40,459.40 L795.92,459.51 L797.44,459.62 L798.96,459.73 L800.48,459.84 L802.01,459.95 L803.53,460.06 L805.05,460.17 L806.57,460.28 L808.09,460.39 L809.61,460.50 L811.13,460.61 L812.65,460.72 L814.17,460.82 L815.69,460.93 L817.22,461.03 L818.74,461.14 L820.26,461.25 L821.78,461.35 L823.30,461.45" stroke="#0000ff"/>
<path d="M64.32,512.00 L65.84,511.94 L67.36,511.75 L68.88,511.43 L70.40,511.00 L71.92,510.44 L73.44,509.76 L74.96,508.97 L76.48,508.06 L78.00,507.04 L79.53,505.91 L81.05,504.68 L82.57,503.35 L84.09,501.92 L85.61,500.39 L87.13,498.78 L88.65,497.08 L90.17,495.30 L91.69,493.44 L93.21,491.51 L94.74,489.50 L96.26,487.44 L97.78,485.30 L99.30,483.11 L100.82,480.86 L102.34,478.56 L103.86,476.20 L105.38,473.80 L106.90,471.35 L108.42,468.86 L109.95,466.32 L111.47,463.74 L112.99,461.13 L114.51,458.48 L116.03,455.80 L117.55,453.08 L119.07,450.32 L120.59,447.54 L122.11,444.72 L123.63,441.87 L125.16,439.00 L126.68,436.09 L128.20,433.15 L129.72,430.19 L131.24,427.20 L132.76,424.17 L134.28,421.12 L135.80,418.04 L137.32,414.93 L138.84,411.79 L140.37,408.61 L141.89,405.41 L143.41,402.18 L144.93,398.91 L146.45,395.61 L147.97,392.27 L149.49,388.90 L151.01,385.50 L152.53,382.06 L154.05,378.57 L155.58,375.05 L157.10,371.49 L158.62,367.89 L160.14,364.24 L161.66,360.55 L163.18,356.81 L164.70,353.02 L166.22,349.19 L167.74,345.30 L169.26,341.36 L170.79,337.36 L172.31,333.31 L173.83,329.19 L175.35,325.02 L176.87,320.79 L178.39,316.49 L179.91,312.12 L181.43,307.69 L182.95,303.20 L184.48,298.63 L186.00,294.00 L187.52,289.29 L189.04,284.52 L190.56,279.69 L192.08,274.79 L193.60,269.83 L195.12,264.82 L196.64,259.76 L198.16,254.67 L199.69,249.55 L201.21,244.43 L202.73,239.31 L204.25,234.24 L205.77,229.23 L207.29,224.33 L208.81,219.57 L210.33,215.00 L211.85,210.67 L213.37,206.64 L214.90,202.96 L216.42,199.71 L217.94,196.93 L219.46,194.68 L220.98,192.99 L222.50,191.90 L224.02,191.40 L225.54,191.51 L227.06,192.18 L228.58,193.39 L230.11,195.09 L231.63,197.22 L233.15,199.71 L234.67,202.52 L236.19,205.59 L237.71,208.85 L239.23,212.26 L240.75,215.79 L242.27,219.38 L243.79,223.02 L245.32,226.68 L246.84,230.33 L248.36,233.96 L249.88,237.55 L251.40,241.10 L252.92,244.59 L254.44,248.03 L255.96,251.39 L257.48,254.70 L259.00,257.93 L260.53,261.09 L262.05,264.18 L263.57,267.20 L265.09,270.14 L266.61,273.02 L268.13,275.83 L269.65,278.58 L271.17,281.25 L272.69,283.87 L274.21,286.42 L275.74,288.91 L277.26,291.34 L278.78,293.72 L280.30,296.04 L281.82,298.31 L283.34,300.52 L284.86,302.69 L286.38,304.80 L287.90,306.87 L289.42,308.90 L290.95,310.88 L292.47,312.81 L293.99,314.71 L295.51,316.56 L297.03,318.38 L298.55,320.16 L300.07,321.90 L301.59,323.61 L303.11,325.28 L304.64,326.92 L306.16,328.53 L307.68,330.11 L309.20,331.66 L310.72,333.17 L312.24,334.66 L313.76,336.12 L315.28,337.56 L316.80,338.97 L318.32,340.35 L319.85,341.71 L321.37,343.05 L322.89,344.36 L324.41,345.65 L325.93,346.91 L327.45,348.16 L328.97,349.39 L330.49,350.59 L332.01,351.78 L333.53,352.94 L335.06,354.09 L336.58,355.22 L338.10,356.33 L339.62,357.42 L341.14,358.50 L342.66,359.56 L344.18,360.60 L345.70,361.63 L347.22,362.65 L348.74,363.65 L350.27,364.63 L351.79,365.60 L353.31,366.55 L354.83,367.50 L356.35,368.42 L357.87,369.34 L359.39,370.24 L360.91,371.13 L362.43,372.01 L363.95,372.88 L365.48,373.73 L367.00,374.58 L368.52,375.41 L370.04,376.23 L371.56,377.04 L373.08,377.84 L374.60,378.63 L376.12,379.41 L377.64,380.18 L379.16,380.94 L380.69,381.69 L382.21,382.43 L383.73,383.16 L385.25,383.89 L386.77,384.60 L388.29,385.31 L389.81,386.01 L391.33,386.70 L392.85,387.38 L394.37,388.05 L395.90,388.72 L397.42,389.38 L398.94,390.03 L400.46,390.67 L401.98,391.31 L403.50,391.93 L405.02,392.56 L406.54,393.17 L408.06,393.78 L409.58,394.38 L411.11,394.98 L412.63,395.56 L414.15,396.15 L415.67,396.72 L417.19,397.29 L418.71,397.86 L420.23,398.41 L421.75,398.97 L423.27,399.51 L424.79,400.05 L426.32,400.59 L427.84,401.12 L429.36,401.64 L430.88,402.16 L432.40,402.68 L433.92,403.19 L435.44,403.69 L436.96,404.19 L438.48,404.69 L440.01,405.18 L441.53,405.66 L443.05,406.14 L444.57,406.62 L446.09,407.09 L447.61,407.55 L449.13,408.02 L450.65,408.48 L452.17,408.93 L453.69,409.38 L455.22,409.82 L456.74,410.27 L458.26,410.70 L459.78,411.14 L461.30,411.57 L462.82,411.99 L464.34,412.41 L465.86,412.83 L467.38,413.25 L468.90,413.66 L470.43,414.07 L471.95,414.47 L473.47,414.87 L474.99,415.27 L476.51,415.66 L478.03,416.05 L479.55,416.44 L481.07,416.82 L482.59,417.20 L484.11,417.58 L485.64,417.95 L487.16,418.33 L488.68,418.69 L490.20,419.06 L491.72,419.42 L493.24,419.78 L494.76,420.14 L496.28,420.49 L497.80,420.84 L499.32,421.19 L500.85,421.53 L502.37,421.87 L503.89,422.21 L505.41,422.55 L506.93,422.89 L508.45,423.22 L509.97,423.55 L511.49,423.87 L513.01,424.20 L514.53,424.52 L516.06,424.84 L517.58,425.15 L519.10,425.47 L520.62,425.78 L522.14,426.09 L523.66,426.40 L525.18,426.70 L526.70,427.01 L528.22,427.31 L529.74,427.60 L531.27,427.90 L532.79,428.20 L534.31,428.49 L535.83,428.78 L537.35,429.06 L538.87,429.35 L540.39,429.63 L541.91,429.92 L543.43,430.20 L544.95,430.47 L546.48,430.75 L548.00,431.02 L549.52,431.30 L551.04,431.57 L552.56,431.83 L554.08,432.10 L555.60,432.36 L557.12,432.63 L558.64,432.89 L560.16,433.15 L561.69,433.40 L563.21,433.66 L564.73,433.91 L566.25,434.17 L567.77,434.42 L569.29,434.67 L570.81,434.91 L572.33,435.16 L573.85,435.40 L575.38,435.65 L576.90,435.89 L578.42,436.13 L579.94,436.36 L581.46,436.60 L582.98,436.84 L584.50,437.07 L586.02,437.30 L587.54,437.53 L589.06,437.76 L590.59,437.99 L592.11,438.21 L593.63,438.44 L595.15,438.66 L596.67,438.88 L598.19,439.10 L599.71,439.32 L601.23,439.54 L602.75,439.76 L604.27,439.97 L605.80,440.18 L607.32,440.40 L608.84,440.61 L610.36,440.82 L611.88,441.03 L613.40,441.23 L614.92,441.44 L616.44,441.64 L617.96,441.85 L619.48,442.05 L621.01,442.25 L622.53,442.45 L624.05,442.65 L625.57,442.85 L627.09,443.05 L628.61,443.24 L630.13,443.44 L631.65,443.63 L633.17,443.82 L634.69,444.01 L636.22,444.20 L637.74,444.39 L639.26,444.58 L640.78,444.76 L642.30,444.95 L643.82,445.13 L645.34,445.32 L646.86,445.50 L648.38,445.68 L649.90,445.86 L651.43,446.04 L652.95,446.22 L654.47,446.40 L655.99,446.57 L657.51,446.75 L659.03,446.92 L660.55,447.10 L662.07,447.27 L663.59,447.44 L665.11,447.61 L666.64,447.78 L668.16,447.95 L669.68,448.12 L671.20,448.29 L672.72,448.45 L674.24,448.62 L675.76,448.78 L677.28,448.95 L678.80,449.11 L680.32,449.27 L681.85,449.43 L683.37,449.59 L684.89,449.75 L686.41,449.91 L687.93,450.07 L689.45,450.23 L690.97,450.38 L692.49,450.54 L694.01,450.69 L695.54,450.85 L697.06,451.00 L698.58,451.15 L700.10,451.30 L701.62,451.45 L703.14,451.60 L704.66,451.75 L706.18,451.90 L707.70,452.05 L709.22,452.19 L710.75,452.34 L712.27,452.49 L713.79,452.63 L715.31,452.77 L716.83,452.92 L718.35,453.06 L719.87,453.20 L721.39,453.34 L722.91,453.48 L724.43,453.62 L725.96,453.76 L727.48,453.90 L729.00,454.04 L730.52,454.18 L732.04,454.31 L733.56,454.45 L735.08,454.58 L736.60,454.72 L738.12,454.85 L739.64,454.99 L741.17,455.12 L742.69,455.25 L744.21,455.38 L745.73,455.51 L747.25,455.64 L748.77,455.77 L750.29,455.90 L751.81,456.03 L753.33,456.16 L754.85,456.28 L756.38,456.41 L757.90,456.54 L759.42,456.66 L760.94,456.79 L762.46,456.91 L763.98,457.03 L765.50,457.16 L767.02,457.28 L768.54,457.40 L770.06,457.52 L771.59,457.65 L773.11,457.77 L774.63,457.89 L776.15,458.00 L777.67,458.12 L779.19,458.24 L780.71,458.36 L782.23,458.48 L783.75,458.59 L785.27,458.71 L786.80,458.82 L788.32,458.94 L789.84,459.05 L791.36,459.17 L792.88,459.28 L794.40,459.40 L795.92,459.51 L797.44,459.62 L798.96,459.73 L800.48,459.84 L802.01,459.95 L803.53,460.06 L805.05,460.17 L806.57,460.28 L808.09,460.39 L809.61,460.50 L811.13,460.61 L812.65,460.72 L814.17,460.82 L815.69,460.93 L817.22,461.03 L818.74,461.14 L820.26,461.25 L821.78,461.35 L823.30,461.45" stroke="#5a0091"/>
<path d="M64.32,511.98 L65.08,510.72 L65.84,509.47 L66.60,508.22 L67.36,506.97 L68.13,505.71 L68.89,504.46 L69.65,503.21 L70.41,501.95 L71.18,500.70 L71.94,499.44 L72.70,498.19 L73.46,496.93 L74.23,495.67 L74.99,494.42 L75.75,493.16 L76.51,491.90 L77.28,490.64 L78.04,489.38 L78.80,488.11 L79.56,486.85 L80.32,485.58 L81.09,484.32 L81.85,483.05 L82.61,481.78 L83.37,480.51 L84.14,479.23 L84.90,477.96 L85.66,476.68 L86.42,475.40 L87.19,474.12 L87.95,472.84 L88.71,471.56 L89.47,470.27 L90.24,468.98 L91.00,467.69 L91.76,466.40 L92.52,465.10 L93.28,463.80 L94.05,462.50 L94.81,461.20 L95.57,459.89 L96.33,458.58 L97.10,457.27 L97.86,455.96 L98.62,454.64 L99.38,453.32 L100.15,451.99 L100.91,450.67 L101.67,449.33 L102.43,448.00 L103.20,446.66 L103.96,445.32 L104.72,443.97 L105.48,442.62 L106.24,441.27 L107.01,439.91 L107.77,438.55 L108.53,437.18 L109.29,435.81 L110.06,434.44 L110.82,433.06 L111.58,431.68 L112.34,430.29 L113.11,428.89 L113.87,427.49 L114.63,426.09 L115.39,424.68 L116.16,423.27 L116.92,421.85 L117.68,420.42 L118.44,418.99 L119.20,417.55 L119.97,416.11 L120.73,414.66 L121.49,413.20 L122.25,411.74 L123.02,410.27 L123.78,408.79 L124.54,407.31 L125.30,405.82 L126.07,404.32 L126.83,402.82 L127.59,401.31 L128.35,399.79 L129.12,398.26 L129.88,396.73 L130.64,395.18 L131.40,393.63 L132.16,392.07 L132.93,390.50 L133.69,388.92 L134.45,387.33 L135.21,385.74 L135.98,384.13 L136.74,382.51 L137.50,380.89 L138.26,379.25 L139.03,377.60 L139.79,375.95 L140.55,374.28 L141.31,372.60 L142.08,370.91 L142.84,369.20 L143.60,367.49 L144.36,365.76 L145.12,364.02 L145.89,362.26 L146.65,360.49 L147.41,358.71 L148.17,356.92 L148.94,355.11 L149.70,353.28 L150.46,351.44 L151.22,349.59 L151.99,347.72 L152.75,345.83 L153.51,343.93 L154.27,342.01 L155.04,340.07 L155.80,338.11 L156.56,336.13 L157.32,334.14 L158.09,332.12 L158.85,330.09 L159.61,328.03 L160.37,325.95 L161.13,323.85 L161.90,321.73 L162.66,319.58 L163.42,317.41 L164.18,315.22 L164.95,313.00 L165.71,310.75 L166.47,308.47 L167.23,306.17 L168.00,303.84 L168.76,301.48 L169.52,299.08 L170.28,296.66 L171.05,294.20 L171.81,291.70 L172.57,289.17 L173.33,286.60 L174.09,284.00 L174.86,281.35 L175.62,278.66 L176.38,275.93 L177.14,273.16 L177.91,270.34 L178.67,267.46 L179.43,264.54 L180.19,261.57 L180.96,258.54 L181.72,255.45 L182.48,252.30 L183.24,249.09 L184.01,245.82 L184.77,242.47 L185.53,239.05 L186.29,235.55 L187.05,231.98 L187.82,228.32 L188.58,224.57 L189.34,220.72 L190.10,216.77 L190.87,212.72 L191.63,208.56 L192.39,204.27 L193.15,199.86 L193.92,195.31 L194.68,190.61 L195.44,185.76 L196.20,180.73 L196.97,175.53 L197.73,170.13 L198.49,164.51 L199.25,158.66 L200.01,152.56 L200.78,146.18 L200.92,144.95 L201.02,144.07 L201.12,143.18 L201.22,142.29 L201.33,141.40 L201.43,140.49 L201.53,139.59 L201.54,139.49 L201.63,138.67 L201.73,137.75 L201.83,136.83 L201.93,135.89 L202.04,134.95 L202.14,134.01 L202.24,133.06 L202.30,132.45 L202.34,132.10 L202.44,131.13 L202.54,130.16 L202.64,129.18 L202.74,128.20 L202.85,127.20 L202.95,126.20 L203.05,125.19 L203.06,125.04 L203.15,124.18 L203.25,123.16 L203.35,122.12 L203.45,121.09 L203.56,120.04 L203.66,118.98 L203.76,117.92 L203.83,117.20 L203.86,116.85 L203.96,115.77 L204.06,114.68 L204.16,113.58 L204.27,112.48 L204.37,111.36 L204.47,110.24 L204.57,109.10 L204.59,108.88 L204.67,107.96 L204.77,106.80 L204.87,105.64 L204.97,104.47 L205.08,103.28 L205.18,102.09 L205.28,100.88 L205.35,100.02 L205.38,99.66 L205.48,98.44 L205.58,97.20 L205.68,95.95 L205.79,94.69 L205.89,93.41 L205.99,92.12 L206.09,90.83 L206.11,90.52 L206.19,89.51 L206.29,88.19 L206.39,86.85 L206.50,85.50 L206.60,84.13 L206.70,82.75 L206.80,81.36 L206.88,80.30 L206.90,79.95 L207.00,78.53 L207.10,77.09 L207.20,75.63 L207.31,74.16 L207.41,72.67 L207.51,71.17 L207.61,69.64 L207.64,69.22 L207.71,68.10 L207.81,66.54 L207.91,64.97 L208.02,63.37 L208.12,61.76 L208.22,60.12 L208.32,58.46 L208.40,57.13 L208.42,56.79 L208.52,55.09 L208.62,53.36 L208.73,51.62 L208.83,49.85 L208.93,48.06 L209.03,46.24 L209.13,44.40 L209.16,43.81 L209.23,42.53 L209.33,40.63 L209.44,38.71 L209.54,36.76 L209.64,34.77 L209.74,32.76 L209.84,30.71 L209.93,28.98 L209.94,28.64 L210.04,26.53 L210.14,24.38 L210.25,22.20 L210.35,19.98 L210.45,17.72 L210.55,15.42 L210.65,13.08 L210.69,12.23 L210.75,10.69 L210.85,8.27 L210.96,5.79 L211.06,3.27 L211.16,0.69 L211.26,-1.93 L211.36,-4.61 L211.45,-7.01 L211.46,-7.35 L211.56,-10.15 L211.67,-13.01 L211.77,-15.93 L211.87,-18.92 L211.97,-21.99 L212.07,-25.13 L212.17,-28.35 L212.21,-29.65 L212.27,-31.65 L212.37,-35.04 L212.48,-38.52 L212.58,-42.10 L212.68,-45.78 L212.78,-49.57 L212.88,-53.48 L212.97,-57.18 L212.98,-57.51 L213.08,-61.68 L213.19,-65.98 L213.29,-70.44 L213.39,-75.05 L213.49,-79.84 L213.59,-84.82 L213.69,-90.01 L213.74,-92.35 L213.79,-95.41 L213.90,-101.06 L214.00,-106.97 L214.10,-113.17 L214.20,-119.69 L214.30,-126.56 L214.40,-133.83 L214.50,-141.22 L214.50,-141.55 L214.60,-149.77 L214.71,-158.56 L214.81,-168.02 L214.91,-178.24 L215.01,-189.38 L215.11,-201.59 L215.21,-215.12 L215.26,-222.17 L215.31,-230.30 L215.42,-235.96 L215.52,-235.96 L215.62,-235.96 L215.72,-235.96 L215.82,-235.96 L215.92,-235.96 L216.02,-235.96" stroke="#000"/>
<path d="M216.18,-235.96 L216.28,-235.96 L216.38,-235.96 L216.48,-235.96 L216.58,-235.96 L216.68,-235.96 L216.78,-235.96 L216.89,-230.94 L216.99,-215.85 L217.09,-202.40 L217.19,-190.27 L217.29,-179.22 L217.39,-169.08 L217.39,-169.06 L217.49,-159.71 L217.60,-151.00 L217.70,-142.86 L217.80,-135.23 L217.90,-128.04 L218.00,-121.25 L218.10,-114.81 L218.20,-108.70 L218.30,-102.87 L218.41,-97.31 L218.51,-91.99 L218.61,-86.88 L218.61,-86.86 L218.71,-81.99 L218.81,-77.28 L218.91,-72.75 L219.01,-68.37 L219.12,-64.15 L219.22,-60.07 L219.32,-56.12 L219.42,-52.30 L219.52,-48.59 L219.62,-44.99 L219.72,-41.50 L219.83,-38.10 L219.83,-38.07 L219.93,-34.79 L220.03,-31.57 L220.13,-28.44 L220.23,-25.38 L220.33,-22.40 L220.43,-19.49 L220.53,-16.65 L220.64,-13.87 L220.74,-11.16 L220.84,-8.50 L220.94,-5.91 L221.04,-3.36 L221.04,-3.34 L221.14,-0.87 L221.24,1.57 L221.35,3.96 L221.45,6.30 L221.55,8.60 L221.65,10.86 L221.75,13.08 L221.85,15.25 L221.95,17.39 L222.06,19.49 L222.16,21.55 L222.26,23.58 L222.26,23.60 L222.36,25.57 L222.46,27.54 L222.56,29.47 L222.66,31.37 L222.76,33.24 L222.87,35.08 L222.97,36.89 L223.07,38.67 L223.17,40.43 L223.27,42.17 L223.37,43.88 L223.47,45.56 L223.48,45.59 L223.58,47.22 L223.68,48.86 L223.78,50.48 L223.88,52.07 L223.98,53.65 L224.08,55.20 L224.18,56.73 L224.29,58.24 L224.39,59.74 L224.49,61.21 L224.59,62.67 L224.69,64.11 L224.69,64.13 L224.79,65.53 L224.89,66.94 L225.00,68.32 L225.10,69.70 L225.20,71.05 L225.30,72.39 L225.40,73.72 L225.50,75.03 L225.60,76.33 L225.70,77.61 L225.81,78.88 L225.91,80.13 L225.91,80.16 L226.01,81.37 L226.11,82.60 L226.21,83.82 L226.31,85.02 L226.41,86.21 L226.52,87.39 L226.62,88.56 L226.72,89.71 L226.82,90.86 L226.92,91.99 L227.02,93.11 L227.12,94.22 L227.13,94.25 L227.23,95.33 L227.33,96.42 L227.43,97.50 L227.53,98.57 L227.63,99.63 L227.73,100.68 L227.83,101.72 L227.93,102.75 L228.04,103.78 L228.14,104.79 L228.24,105.80 L228.34,106.79 L228.34,106.82 L228.44,107.78 L228.54,108.76 L228.64,109.73 L228.75,110.69 L228.85,111.65 L228.95,112.60 L229.05,113.54 L229.15,114.47 L229.25,115.39 L229.35,116.31 L229.46,117.22 L229.56,118.12 L229.56,118.15 L229.66,119.02 L229.76,119.91 L229.86,120.79 L229.96,121.67 L230.06,122.53 L230.16,123.40 L230.27,124.25 L230.37,125.10 L230.47,125.94 L230.57,126.78 L230.67,127.61 L230.77,128.43 L230.78,128.46 L230.87,129.25 L230.98,130.07 L231.08,130.87 L231.18,131.67 L231.28,132.47 L231.99,137.91 L233.21,146.63 L234.43,154.73 L235.64,162.27 L236.86,169.33 L238.08,175.96 L239.29,182.21 L240.51,188.12 L241.73,193.73 L242.94,199.05 L244.16,204.12 L245.38,208.95 L246.59,213.57 L247.81,218.00 L249.03,222.24 L250.24,226.31 L251.46,230.23 L252.68,234.00 L253.89,237.63 L255.11,241.14 L256.33,244.53 L257.54,247.80 L258.76,250.97 L259.98,254.04 L261.19,257.01 L262.41,259.90 L263.63,262.70 L264.84,265.42 L266.06,268.06 L267.28,270.63 L268.49,273.13 L269.71,275.57 L270.93,277.94 L272.14,280.26 L273.36,282.51 L274.58,284.72 L275.79,286.87 L277.01,288.96 L278.23,291.01 L279.44,293.02 L280.66,294.98 L281.88,296.89 L283.09,298.77 L284.31,300.60 L285.53,302.40 L286.74,304.16 L287.96,305.88 L289.18,307.57 L290.39,309.23 L291.61,310.85 L292.83,312.45 L294.04,314.01 L295.26,315.54 L296.48,317.05 L297.69,318.53 L298.91,319.98 L300.13,321.41 L301.34,322.81 L302.56,324.19 L303.78,325.54 L304.99,326.87 L306.21,328.18 L307.43,329.47 L308.64,330.73 L309.86,331.98 L311.08,333.20 L312.29,334.41 L313.51,335.60 L314.73,336.77 L315.94,337.92 L317.16,339.06 L318.38,340.17 L319.59,341.27 L320.81,342.36 L322.03,343.43 L323.24,344.48 L324.46,345.52 L325.68,346.55 L326.89,347.56 L328.11,348.55 L329.33,349.53 L330.54,350.50 L331.76,351.46 L332.98,352.40 L334.19,353.33 L335.41,354.25 L336.63,355.16 L337.84,356.05 L339.06,356.94 L340.28,357.81 L341.49,358.67 L342.71,359.52 L343.93,360.36 L345.14,361.19 L346.36,362.01 L347.58,362.82 L348.79,363.62 L350.01,364.41 L351.23,365.19 L352.44,365.97 L353.66,366.73 L354.88,367.48 L356.09,368.23 L357.31,368.97 L358.53,369.69 L359.74,370.42 L360.96,371.13 L362.18,371.83 L363.39,372.53 L364.61,373.22 L365.83,373.90 L367.04,374.58 L368.26,375.24 L369.48,375.90 L370.69,376.56 L371.91,377.21 L373.13,377.84 L374.34,378.48 L375.56,379.11 L376.78,379.73 L377.99,380.34 L379.21,380.95 L380.43,381.55 L381.64,382.15 L382.86,382.74 L384.08,383.32 L385.29,383.90 L386.51,384.47 L387.73,385.04 L388.94,385.60 L390.16,386.16 L391.38,386.71 L392.59,387.25 L393.81,387.79 L395.03,388.33 L396.24,388.86 L397.46,389.39 L398.68,389.91 L399.89,390.42 L401.11,390.94 L402.33,391.44 L403.54,391.95 L404.76,392.44 L405.98,392.94 L407.19,393.43 L408.41,393.91 L409.63,394.39 L410.84,394.87 L412.06,395.34 L413.28,395.81 L414.49,396.27 L415.71,396.73 L416.93,397.19 L418.15,397.64 L419.36,398.09 L420.58,398.54 L421.80,398.98 L423.01,399.42 L424.23,399.85 L425.45,400.28 L426.66,400.71 L427.88,401.13 L429.10,401.55 L430.31,401.97 L431.53,402.38 L432.75,402.79 L433.96,403.20 L435.18,403.60 L436.40,404.00 L437.61,404.40 L438.83,404.80 L440.05,405.19 L441.26,405.58 L442.48,405.96 L443.70,406.34 L444.91,406.72 L446.13,407.10 L447.35,407.47 L448.56,407.84 L449.78,408.21 L451.00,408.58 L452.21,408.94 L453.43,409.30 L454.65,409.66 L455.86,410.01 L457.08,410.36 L458.30,410.71 L459.51,411.06 L460.73,411.41 L461.95,411.75 L463.16,412.09 L464.38,412.42 L465.60,412.76 L466.81,413.09 L468.03,413.42 L469.25,413.75 L470.46,414.08 L471.68,414.40 L472.90,414.72 L474.11,415.04 L475.33,415.36 L476.55,415.67 L477.76,415.98 L478.98,416.29 L480.20,416.60 L481.41,416.91 L482.63,417.21 L483.85,417.51 L485.06,417.81 L486.28,418.11 L487.50,418.41 L488.71,418.70 L489.93,418.99 L491.15,419.28 L492.36,419.57 L493.58,419.86 L494.80,420.14 L496.01,420.43 L497.23,420.71 L498.45,420.99 L499.66,421.26 L500.88,421.54 L502.10,421.81 L503.31,422.09 L504.53,422.36 L505.75,422.63 L506.96,422.89 L508.18,423.16 L509.40,423.42 L510.61,423.68 L511.83,423.94 L513.05,424.20 L514.26,424.46 L515.48,424.72 L516.70,424.97 L517.91,425.22 L519.13,425.48 L520.35,425.72 L521.56,425.97 L522.78,426.22 L524.00,426.47 L525.21,426.71 L526.43,426.95 L527.65,427.19 L528.86,427.43 L530.08,427.67 L531.30,427.91 L532.51,428.14 L533.73,428.38 L534.95,428.61 L536.16,428.84 L537.38,429.07 L538.60,429.30 L539.81,429.53 L541.03,429.75 L542.25,429.98 L543.46,430.20 L544.68,430.42 L545.90,430.64 L547.11,430.86 L548.33,431.08 L549.55,431.30 L550.76,431.52 L551.98,431.73 L553.20,431.95 L554.41,432.16 L555.63,432.37 L556.85,432.58 L558.06,432.79 L559.28,433.00 L560.50,433.20 L561.71,433.41 L562.93,433.61 L564.15,433.82 L565.36,434.02 L566.58,434.22 L567.80,434.42 L569.01,434.62 L570.23,434.82 L571.45,435.02 L572.66,435.21 L573.88,435.41 L575.10,435.60 L576.31,435.79 L577.53,435.99 L578.75,436.18 L579.96,436.37 L581.18,436.56 L582.40,436.75 L583.61,436.93 L584.83,437.12 L586.05,437.30 L587.26,437.49 L588.48,437.67 L589.70,437.85 L590.91,438.04 L592.13,438.22 L593.35,438.40 L594.56,438.57 L595.78,438.75 L597.00,438.93 L598.21,439.11 L599.43,439.28 L600.65,439.46 L601.86,439.63 L603.08,439.80 L604.30,439.97 L605.51,440.15 L606.73,440.32 L607.95,440.48 L609.16,440.65 L610.38,440.82 L611.60,440.99 L612.81,441.15 L614.03,441.32 L615.25,441.48 L616.46,441.65 L617.68,441.81 L618.90,441.97 L620.11,442.13 L621.33,442.30 L622.55,442.46 L623.76,442.61 L624.98,442.77 L626.20,442.93 L627.41,443.09 L628.63,443.24 L629.85,443.40 L631.06,443.55 L632.28,443.71 L633.50,443.86 L634.71,444.01 L635.93,444.17 L637.15,444.32 L638.36,444.47 L639.58,444.62 L640.80,444.77 L642.01,444.92 L643.23,445.06 L644.45,445.21 L645.66,445.36 L646.88,445.50 L648.10,445.65 L649.31,445.79 L650.53,445.94 L651.75,446.08 L652.96,446.22 L654.18,446.36 L655.40,446.51 L656.61,446.65 L657.83,446.79 L659.05,446.93 L660.26,447.07 L661.48,447.20 L662.70,447.34 L663.91,447.48 L665.13,447.62 L666.35,447.75 L667.56,447.89 L668.78,448.02 L670.00,448.16 L671.21,448.29 L672.43,448.42 L673.65,448.55 L674.86,448.69 L676.08,448.82 L677.30,448.95 L678.51,449.08 L679.73,449.21 L680.95,449.34 L682.16,449.47 L683.38,449.59 L684.60,449.72 L685.81,449.85 L687.03,449.98 L688.25,450.10 L689.47,450.23 L690.68,450.35 L691.90,450.48 L693.12,450.60 L694.33,450.72 L695.55,450.85 L696.77,450.97 L697.98,451.09 L699.20,451.21 L700.42,451.33 L701.63,451.45 L702.85,451.57 L704.07,451.69 L705.28,451.81 L706.50,451.93 L707.72,452.05 L708.93,452.17 L710.15,452.28 L711.37,452.40 L712.58,452.52 L713.80,452.63 L715.02,452.75 L716.23,452.86 L717.45,452.98 L718.67,453.09 L719.88,453.20 L721.10,453.32 L722.32,453.43 L723.53,453.54 L724.75,453.65 L725.97,453.76 L727.18,453.88 L728.40,453.99 L729.62,454.10 L730.83,454.20 L732.05,454.31 L733.27,454.42 L734.48,454.53 L735.70,454.64 L736.92,454.75 L738.13,454.85 L739.35,454.96 L740.57,455.07 L741.78,455.17 L743.00,455.28 L744.22,455.38 L745.43,455.49 L746.65,455.59 L747.87,455.70 L749.08,455.80 L750.30,455.90 L751.52,456.00 L752.73,456.11 L753.95,456.21 L755.17,456.31 L756.38,456.41 L757.60,456.51 L758.82,456.61 L760.03,456.71 L761.25,456.81 L762.47,456.91 L763.68,457.01 L764.90,457.11 L766.12,457.21 L767.33,457.31 L768.55,457.40 L769.77,457.50 L770.98,457.60 L772.20,457.69 L773.42,457.79 L774.63,457.89 L775.85,457.98 L777.07,458.08 L778.28,458.17 L779.50,458.27 L780.72,458.36 L781.93,458.45 L783.15,458.55 L784.37,458.64 L785.58,458.73 L786.80,458.83 L788.02,458.92 L789.23,459.01 L790.45,459.10 L791.67,459.19 L792.88,459.28 L794.10,459.37 L795.32,459.46 L796.53,459.55 L797.75,459.64 L798.97,459.73 L800.18,459.82 L801.40,459.91 L802.62,460.00 L803.83,460.09 L805.05,460.17 L806.27,460.26 L807.48,460.35 L808.70,460.44 L809.92,460.52 L811.13,460.61 L812.35,460.69 L813.57,460.78 L814.78,460.86 L816.00,460.95 L817.22,461.03 L818.43,461.12 L819.65,461.20 L820.87,461.29 L822.08,461.37 L823.30,461.45" stroke="#000"/>
</g>
<g clip-path="url(#ci)" fill="none" stroke-linejoin="round" stroke-width="2.8">
<path d="M376.00,329.30 L376.73,328.60 L377.45,327.90 L378.18,327.21 L378.90,326.51 L379.63,325.81 L380.35,325.11 L381.08,324.40 L381.80,323.70 L382.53,322.99 L383.25,322.27 L383.97,321.55 L384.70,320.83 L385.42,320.10 L386.15,319.37 L386.87,318.63 L387.60,317.89 L388.32,317.13 L389.05,316.37 L389.77,315.60 L390.50,314.83 L391.22,314.04 L391.94,313.24 L392.67,312.43 L393.39,311.61 L394.12,310.77 L394.84,309.92 L395.57,309.06 L396.29,308.17 L397.02,307.27 L397.74,306.36 L398.46,305.42 L399.19,304.45 L399.91,303.47 L400.64,302.46 L401.36,301.41 L402.09,300.34 L402.81,299.23 L403.54,298.09 L404.26,296.90 L404.99,295.67 L405.71,294.39 L406.43,293.05 L407.16,291.65 L407.88,290.18 L408.61,288.62 L409.33,286.98 L410.06,285.22 L410.72,283.51 L410.78,283.36 L410.78,283.35 L410.84,283.20 L410.89,283.05 L410.95,282.89 L411.01,282.73 L411.07,282.57 L411.13,282.41 L411.18,282.25 L411.24,282.08 L411.30,281.92 L411.36,281.75 L411.42,281.59 L411.47,281.42 L411.51,281.33 L411.53,281.25 L411.59,281.08 L411.65,280.91 L411.71,280.74 L411.77,280.56 L411.82,280.39 L411.88,280.21 L411.94,280.04 L412.00,279.86 L412.06,279.68 L412.11,279.50 L412.17,279.32 L412.23,279.13 L412.23,279.13 L412.29,278.95 L412.35,278.76 L412.40,278.58 L412.46,278.39 L412.52,278.20 L412.58,278.01 L412.64,277.81 L412.69,277.62 L412.75,277.42 L412.81,277.22 L412.87,277.02 L412.93,276.82 L412.96,276.72 L412.98,276.62 L413.04,276.42 L413.10,276.21 L413.16,276.00 L413.22,275.79 L413.27,275.58 L413.33,275.37 L413.39,275.15 L413.45,274.93 L413.51,274.71 L413.56,274.49 L413.62,274.27 L413.68,274.05 L413.68,274.04 L413.74,273.82 L413.80,273.59 L413.86,273.36 L413.91,273.12 L413.97,272.88 L414.03,272.65 L414.09,272.40 L414.15,272.16 L414.20,271.91 L414.26,271.67 L414.32,271.41 L414.38,271.16 L414.40,271.04 L414.44,270.90 L414.49,270.64 L414.55,270.38 L414.61,270.11 L414.67,269.85 L414.73,269.57 L414.78,269.30 L414.84,269.02 L414.90,268.74 L414.96,268.45 L415.02,268.16 L415.07,267.87 L415.13,267.59 L415.13,267.57 L415.19,267.27 L415.25,266.97 L415.31,266.66 L415.36,266.35 L415.42,266.03 L415.48,265.71 L415.54,265.39 L415.60,265.06 L415.66,264.72 L415.71,264.38 L415.77,264.04 L415.83,263.69 L415.85,263.54 L415.89,263.33 L415.95,262.97 L416.00,262.60 L416.06,262.23 L416.12,261.85 L416.18,261.46 L416.24,261.07 L416.29,260.67 L416.35,260.26 L416.41,259.84 L416.47,259.42 L416.53,258.99 L416.58,258.59 L416.58,258.55 L416.64,258.10 L416.70,257.64 L416.76,257.17 L416.82,256.70 L416.87,256.21 L416.93,255.71 L416.99,255.20 L417.05,254.68 L417.11,254.14 L417.16,253.59 L417.22,253.03 L417.28,252.45 L417.30,252.23 L417.34,251.86 L417.40,251.25 L417.45,250.62 L417.51,249.98 L417.57,249.31 L417.63,248.63 L417.69,247.92 L417.75,247.18 L417.80,246.43 L417.86,245.64 L417.92,244.82 L417.98,243.98 L418.03,243.22 L418.04,243.09 L418.09,242.17 L418.15,241.21 L418.21,240.20 L418.27,239.15 L418.33,238.04 L418.38,236.87 L418.44,235.63 L418.50,234.31 L418.56,232.90 L418.62,231.40 L418.67,229.78 L418.73,228.03 L418.75,227.41 L418.79,226.12 L418.85,224.02 L418.91,221.69 L418.96,219.07 L419.02,216.07 L419.08,212.58 L419.14,208.38 L419.20,203.13 L419.25,196.11 L419.31,185.45 L419.37,175.10 L419.43,175.10 L419.48,182.67 L419.49,185.41 L419.55,196.04 L419.60,203.03 L419.66,208.26 L419.72,212.42 L419.78,215.89 L419.84,218.86 L419.89,221.45 L419.95,223.76 L420.01,225.83 L420.07,227.71 L420.13,229.44 L420.18,231.02 L420.20,231.47 L420.24,232.50 L420.30,233.88 L420.36,235.17 L420.42,236.38 L420.47,237.52 L420.53,238.60 L420.59,239.63 L420.65,240.61 L420.71,241.55 L420.76,242.44 L420.82,243.29 L420.88,244.11 L420.93,244.72 L420.94,244.90 L421.00,245.66 L421.05,246.39 L421.11,247.09 L421.17,247.78 L421.23,248.43 L421.29,249.07 L421.35,249.69 L421.40,250.29 L421.46,250.87 L421.52,251.44 L421.58,251.99 L421.64,252.52 L421.65,252.65 L421.69,253.04 L421.75,253.55 L421.81,254.04 L421.87,254.53 L421.93,255.00 L421.98,255.46 L422.04,255.91 L422.10,256.35 L422.16,256.78 L422.22,257.20 L422.27,257.61 L422.33,258.01 L422.37,258.30 L422.39,258.41 L422.45,258.79 L422.51,259.17 L422.56,259.55 L422.62,259.91 L422.68,260.27 L422.74,260.62 L422.80,260.97 L422.85,261.31 L422.91,261.64 L422.97,261.97 L423.03,262.29 L423.09,262.61 L423.10,262.68 L423.14,262.92 L423.20,263.23 L423.26,263.53 L423.32,263.83 L423.38,264.12 L423.44,264.41 L423.49,264.70 L423.55,264.98 L423.61,265.25 L423.67,265.52 L423.73,265.79 L423.78,266.06 L423.82,266.24 L423.84,266.32 L423.90,266.58 L423.96,266.83 L424.02,267.08 L424.07,267.33 L424.13,267.57 L424.19,267.81 L424.25,268.05 L424.31,268.28 L424.36,268.52 L424.42,268.75 L424.48,268.97 L424.54,269.20 L424.55,269.23 L424.60,269.42 L424.65,269.63 L424.71,269.85 L424.77,270.06 L424.83,270.28 L424.89,270.48 L424.94,270.69 L425.00,270.89 L425.06,271.10 L425.12,271.30 L425.18,271.49 L425.24,271.69 L425.27,271.81 L425.29,271.88 L425.35,272.07 L425.41,272.26 L425.47,272.45 L425.53,272.63 L425.58,272.82 L425.64,273.00 L425.70,273.18 L425.76,273.36 L425.82,273.53 L425.87,273.71 L425.93,273.88 L425.99,274.05 L426.00,274.08 L426.05,274.22 L426.11,274.39 L426.16,274.56 L426.22,274.72 L426.28,274.89 L426.34,275.05 L426.40,275.21 L426.45,275.37 L426.51,275.53 L426.57,275.68 L426.63,275.84 L426.69,275.99 L426.72,276.09 L426.74,276.15 L426.80,276.30 L426.86,276.45 L426.92,276.60 L426.98,276.74 L427.03,276.89 L427.09,277.03 L427.15,277.18 L427.21,277.32 L427.27,277.46 L427.33,277.60 L427.38,277.74 L427.44,277.88 L427.45,277.89 L427.50,278.02 L427.56,278.15 L427.62,278.29 L427.67,278.42 L427.73,278.56 L427.79,278.69 L427.85,278.82 L427.91,278.95 L427.96,279.08 L428.02,279.21 L428.08,279.33 L428.17,279.53 L428.90,281.03 L429.62,282.40 L430.34,283.67 L431.07,284.86 L431.79,285.96 L432.52,286.99 L433.24,287.96 L433.97,288.87 L434.69,289.74 L435.42,290.56 L436.14,291.33 L436.87,292.07 L437.59,292.77 L438.31,293.44 L439.04,294.08 L439.76,294.70 L440.49,295.28 L441.21,295.85 L441.94,296.39 L442.66,296.91 L443.39,297.42 L444.11,297.90 L444.84,298.37 L445.56,298.82 L446.28,299.25 L447.01,299.68 L447.73,300.08 L448.46,300.48 L449.18,300.86 L449.91,301.23 L450.63,301.60 L451.36,301.95 L452.08,302.29 L452.80,302.62 L453.53,302.94 L454.25,303.25 L454.98,303.56 L455.70,303.85 L456.43,304.14 L457.15,304.43 L457.88,304.70 L458.60,304.97 L459.33,305.23 L460.05,305.49 L460.77,305.74 L461.50,305.98 L462.22,306.22 L462.95,306.45 L463.67,306.68 L464.40,306.91 L465.12,307.13 L465.85,307.34 L466.57,307.55 L467.30,307.75 L468.02,307.95 L468.74,308.15 L469.47,308.35 L470.19,308.53 L470.92,308.72 L471.64,308.90 L472.37,309.08 L473.09,309.26 L473.82,309.43 L474.54,309.60 L475.27,309.76 L475.99,309.93 L476.71,310.09 L477.44,310.24 L478.16,310.40 L478.89,310.55 L479.61,310.70 L480.34,310.85 L481.06,310.99 L481.79,311.13 L482.51,311.27 L483.24,311.41 L483.96,311.54 L484.68,311.68 L485.41,311.81 L486.13,311.94 L486.86,312.06 L487.58,312.19 L488.31,312.31 L489.03,312.43 L489.76,312.55 L490.48,312.67 L491.21,312.79 L491.93,312.90 L492.65,313.01 L493.38,313.12 L494.10,313.23 L494.83,313.34 L495.55,313.45 L496.28,313.55 L497.00,313.66 L497.73,313.76 L498.45,313.86 L499.18,313.96 L499.90,314.06 L500.62,314.15 L501.35,314.25 L502.07,314.34 L502.80,314.44 L503.52,314.53 L504.25,314.62 L504.97,314.71 L505.70,314.80 L506.42,314.88 L507.14,314.97 L507.87,315.05 L508.59,315.14 L509.32,315.22 L510.04,315.30 L510.77,315.38 L511.49,315.46 L512.22,315.54 L512.94,315.62 L513.67,315.70 L514.39,315.77 L515.11,315.85 L515.84,315.92 L516.56,316.00 L517.29,316.07 L518.01,316.14 L518.74,316.21 L519.46,316.29 L520.19,316.35 L520.91,316.42 L521.64,316.49 L522.36,316.56 L523.08,316.63 L523.81,316.69 L524.53,316.76 L525.26,316.82 L525.98,316.89 L526.71,316.95 L527.43,317.01 L528.16,317.07 L528.88,317.13 L529.61,317.20 L530.33,317.26 L531.05,317.32 L531.78,317.37 L532.50,317.43 L533.23,317.49 L533.95,317.55 L534.68,317.60 L535.40,317.66 L536.13,317.71 L536.85,317.77 L537.58,317.82 L538.30,317.88 L539.02,317.93 L539.75,317.98 L540.47,318.04 L541.20,318.09 L541.92,318.14 L542.65,318.19 L543.37,318.24 L544.10,318.29 L544.82,318.34 L545.55,318.39 L546.27,318.44 L546.99,318.49 L547.72,318.53 L548.44,318.58 L549.17,318.63 L549.89,318.67 L550.62,318.72 L551.34,318.77 L552.07,318.81 L552.79,318.86 L553.52,318.90 L554.24,318.94 L554.96,318.99 L555.69,319.03 L556.41,319.07 L557.14,319.12 L557.86,319.16 L558.59,319.20 L559.31,319.24 L560.04,319.28 L560.76,319.32 L561.48,319.36 L562.21,319.40 L562.93,319.44 L563.66,319.48 L564.38,319.52 L565.11,319.56 L565.83,319.60 L566.56,319.64 L567.28,319.68 L568.01,319.71 L568.73,319.75 L569.45,319.79 L570.18,319.83 L570.90,319.86 L571.63,319.90 L572.35,319.93 L573.08,319.97 L573.80,320.00 L574.53,320.04 L575.25,320.07 L575.98,320.11 L576.70,320.14 L577.42,320.18 L578.15,320.21 L578.87,320.24 L579.60,320.28 L580.32,320.31 L581.05,320.34 L581.77,320.38 L582.50,320.41 L583.22,320.44 L583.95,320.47 L584.67,320.50 L585.39,320.54 L586.12,320.57 L586.84,320.60 L587.57,320.63 L588.29,320.66 L589.02,320.69 L589.74,320.72 L590.47,320.75 L591.19,320.78 L591.92,320.81 L592.64,320.84 L593.36,320.87 L594.09,320.89 L594.81,320.92 L595.54,320.95 L596.26,320.98 L596.99,321.01 L597.71,321.04 L598.44,321.06 L599.16,321.09 L599.89,321.12 L600.61,321.14 L601.33,321.17 L602.06,321.20 L602.78,321.22 L603.51,321.25 L604.23,321.28 L604.96,321.30 L605.68,321.33 L606.41,321.35 L607.13,321.38 L607.86,321.41 L608.58,321.43 L609.30,321.46 L610.03,321.48 L610.75,321.51 L611.48,321.53 L612.20,321.55 L612.93,321.58 L613.65,321.60 L614.38,321.63 L615.10,321.65 L615.82,321.67 L616.55,321.70 L617.27,321.72 L618.00,321.74 L618.72,321.77 L619.45,321.79 L620.17,321.81 L620.90,321.84 L621.62,321.86 L622.35,321.88 L623.07,321.90 L623.79,321.92 L624.52,321.95 L625.24,321.97 L625.97,321.99 L626.69,322.01 L627.42,322.03 L628.14,322.05 L628.87,322.08 L629.59,322.10 L630.32,322.12 L631.04,322.14 L631.76,322.16 L632.49,322.18 L633.21,322.20 L633.94,322.22 L634.66,322.24 L635.39,322.26 L636.11,322.28 L636.84,322.30 L637.56,322.32 L638.29,322.34 L639.01,322.36 L639.73,322.38 L640.46,322.40 L641.18,322.42 L641.91,322.44 L642.63,322.46 L643.36,322.47 L644.08,322.49 L644.81,322.51 L645.53,322.53 L646.26,322.55 L646.98,322.57 L647.70,322.59 L648.43,322.60 L649.15,322.62 L649.88,322.64 L650.60,322.66 L651.33,322.68 L652.05,322.69 L652.78,322.71 L653.50,322.73 L654.23,322.75 L654.95,322.76 L655.67,322.78 L656.40,322.80 L657.12,322.81 L657.85,322.83 L658.57,322.85 L659.30,322.86 L660.02,322.88 L660.75,322.90 L661.47,322.91 L662.20,322.93 L662.92,322.95 L663.64,322.96 L664.37,322.98 L665.09,323.00 L665.82,323.01 L666.54,323.03 L667.27,323.04 L667.99,323.06 L668.72,323.08 L669.44,323.09 L670.17,323.11 L670.89,323.12 L671.61,323.14 L672.34,323.15 L673.06,323.17 L673.79,323.18 L674.51,323.20 L675.24,323.21 L675.96,323.23 L676.69,323.24 L677.41,323.26 L678.13,323.27 L678.86,323.29 L679.58,323.30 L680.31,323.32 L681.03,323.33 L681.76,323.34 L682.48,323.36 L683.21,323.37 L683.93,323.39 L684.66,323.40 L685.38,323.41 L686.10,323.43 L686.83,323.44 L687.55,323.46 L688.28,323.47 L689.00,323.48 L689.73,323.50 L690.45,323.51 L691.18,323.52 L691.90,323.54 L692.63,323.55 L693.35,323.56 L694.07,323.58 L694.80,323.59 L695.52,323.60 L696.25,323.62 L696.97,323.63 L697.70,323.64 L698.42,323.66 L699.15,323.67 L699.87,323.68 L700.60,323.69 L701.32,323.71 L702.04,323.72 L702.77,323.73 L703.49,323.74 L704.22,323.76 L704.94,323.77 L705.67,323.78 L706.39,323.79 L707.12,323.81 L707.84,323.82 L708.57,323.83 L709.29,323.84 L710.01,323.85 L710.74,323.87 L711.46,323.88 L712.19,323.89 L712.91,323.90 L713.64,323.91 L714.36,323.92 L715.09,323.94 L715.81,323.95 L716.54,323.96 L717.26,323.97 L717.98,323.98 L718.71,323.99 L719.43,324.01 L720.16,324.02 L720.88,324.03 L721.61,324.04 L722.33,324.05 L723.06,324.06 L723.78,324.07 L724.51,324.08 L725.23,324.09 L725.95,324.10 L726.68,324.12 L727.40,324.13 L728.13,324.14 L728.85,324.15 L729.58,324.16 L730.30,324.17 L731.03,324.18 L731.75,324.19 L732.47,324.20 L733.20,324.21 L733.92,324.22 L734.65,324.23 L735.37,324.24 L736.10,324.25 L736.82,324.26 L737.55,324.27 L738.27,324.28 L739.00,324.29 L739.72,324.30 L740.44,324.31 L741.17,324.32 L741.89,324.33 L742.62,324.34 L743.34,324.35 L744.07,324.36 L744.79,324.37 L745.52,324.38 L746.24,324.39 L746.97,324.40 L747.69,324.41 L748.41,324.42 L749.14,324.43 L749.86,324.44 L750.59,324.45 L751.31,324.46 L752.04,324.47 L752.76,324.48 L753.49,324.49 L754.21,324.50 L754.94,324.51 L755.66,324.52 L756.38,324.52 L757.11,324.53 L757.83,324.54 L758.56,324.55 L759.28,324.56 L760.01,324.57 L760.73,324.58 L761.46,324.59 L762.18,324.60 L762.91,324.61 L763.63,324.61 L764.35,324.62 L765.08,324.63 L765.80,324.64 L766.53,324.65 L767.25,324.66 L767.98,324.67 L768.70,324.68 L769.43,324.68 L770.15,324.69 L770.88,324.70 L771.60,324.71 L772.32,324.72 L773.05,324.73 L773.77,324.73 L774.50,324.74 L775.22,324.75 L775.95,324.76 L776.67,324.77 L777.40,324.78 L778.12,324.78 L778.85,324.79 L779.57,324.80 L780.29,324.81 L781.02,324.82 L781.74,324.83 L782.47,324.83 L783.19,324.84 L783.92,324.85 L784.64,324.86 L785.37,324.86 L786.09,324.87 L786.81,324.88 L787.54,324.89 L788.26,324.90 L788.99,324.90 L789.71,324.91 L790.44,324.92 L791.16,324.93 L791.89,324.94 L792.61,324.94 L793.34,324.95 L794.06,324.96 L794.78,324.97 L795.51,324.97 L796.23,324.98 L796.96,324.99 L797.68,325.00 L798.41,325.00 L799.13,325.01 L799.86,325.02 L800.58,325.03 L801.31,325.03 L802.03,325.04 L802.75,325.05 L803.48,325.05 L804.20,325.06 L804.93,325.07 L805.65,325.08 L806.38,325.08 L807.10,325.09 L807.83,325.10 L808.55,325.10 L809.28,325.11 L810.00,325.12" stroke="#000" stroke-linejoin="miter"/>
<path d="M376.00,329.30 L376.73,329.21 L377.45,328.95 L378.18,328.53 L378.90,327.93 L379.63,327.17 L380.35,326.25 L381.08,325.18 L381.80,323.95 L382.53,322.59 L383.25,321.08 L383.97,319.45 L384.70,317.69 L385.42,315.81 L386.15,313.82 L386.87,311.73 L387.60,309.54 L388.32,307.26 L389.05,304.90 L389.77,302.45 L390.50,299.93 L391.22,297.34 L391.94,294.69 L392.67,291.97 L393.39,289.20 L394.12,286.37 L394.84,283.49 L395.57,280.57 L396.29,277.60 L397.02,274.59 L397.74,271.54 L398.46,268.45 L399.19,265.33 L399.91,262.17 L400.64,258.99 L401.36,255.77 L402.09,252.52 L402.81,249.25 L403.54,245.95 L404.26,242.63 L404.99,239.29 L405.71,235.93 L406.43,232.56 L407.16,229.17 L407.88,225.77 L408.61,222.36 L409.33,218.96 L410.06,215.55 L410.72,212.44 L410.78,212.17 L410.78,212.15 L410.84,211.90 L410.89,211.62 L410.95,211.35 L411.01,211.08 L411.07,210.81 L411.13,210.54 L411.18,210.27 L411.24,210.00 L411.30,209.72 L411.36,209.45 L411.42,209.18 L411.47,208.91 L411.51,208.76 L411.53,208.64 L411.59,208.37 L411.65,208.10 L411.71,207.83 L411.77,207.56 L411.82,207.29 L411.88,207.02 L411.94,206.75 L412.00,206.48 L412.06,206.21 L412.11,205.94 L412.17,205.67 L412.23,205.40 L412.23,205.40 L412.29,205.14 L412.35,204.87 L412.40,204.60 L412.46,204.33 L412.52,204.06 L412.58,203.79 L412.64,203.53 L412.69,203.26 L412.75,202.99 L412.81,202.73 L412.87,202.46 L412.93,202.19 L412.96,202.06 L412.98,201.93 L413.04,201.66 L413.10,201.39 L413.16,201.13 L413.22,200.86 L413.27,200.60 L413.33,200.33 L413.39,200.07 L413.45,199.80 L413.51,199.54 L413.56,199.28 L413.62,199.01 L413.68,198.75 L413.68,198.75 L413.74,198.48 L413.80,198.22 L413.86,197.96 L413.91,197.70 L413.97,197.44 L414.03,197.17 L414.09,196.91 L414.15,196.65 L414.20,196.39 L414.26,196.13 L414.32,195.87 L414.38,195.61 L414.40,195.49 L414.44,195.35 L414.49,195.09 L414.55,194.83 L414.61,194.58 L414.67,194.32 L414.73,194.06 L414.78,193.80 L414.84,193.55 L414.90,193.29 L414.96,193.03 L415.02,192.78 L415.07,192.52 L415.13,192.28 L415.13,192.27 L415.19,192.01 L415.25,191.76 L415.31,191.51 L415.36,191.25 L415.42,191.00 L415.48,190.75 L415.54,190.50 L415.60,190.24 L415.66,189.99 L415.71,189.74 L415.77,189.49 L415.83,189.24 L415.85,189.14 L415.89,189.00 L415.95,188.75 L416.00,188.50 L416.06,188.25 L416.12,188.00 L416.18,187.76 L416.24,187.51 L416.29,187.27 L416.35,187.02 L416.41,186.78 L416.47,186.53 L416.53,186.29 L416.58,186.07 L416.58,186.05 L416.64,185.81 L416.70,185.56 L416.76,185.32 L416.82,185.08 L416.87,184.84 L416.93,184.60 L416.99,184.37 L417.05,184.13 L417.11,183.89 L417.16,183.65 L417.22,183.42 L417.28,183.18 L417.30,183.09 L417.34,182.95 L417.40,182.71 L417.45,182.48 L417.51,182.25 L417.57,182.02 L417.63,181.79 L417.69,181.55 L417.75,181.32 L417.80,181.10 L417.86,180.87 L417.92,180.64 L417.98,180.41 L418.03,180.22 L418.04,180.19 L418.09,179.96 L418.15,179.74 L418.21,179.51 L418.27,179.29 L418.33,179.07 L418.38,178.84 L418.44,178.62 L418.50,178.40 L418.56,178.18 L418.62,177.97 L418.67,177.75 L418.73,177.53 L418.75,177.46 L418.79,177.32 L418.85,177.10 L418.91,176.89 L418.96,176.67 L419.02,176.46 L419.08,176.25 L419.14,176.04 L419.20,175.83 L419.25,175.62 L419.31,175.41 L419.37,175.20 L419.43,175.00 L419.48,174.83 L419.49,174.79 L419.55,174.59 L419.60,174.38 L419.66,174.18 L419.72,173.98 L419.78,173.78 L419.84,173.58 L419.89,173.38 L419.95,173.18 L420.01,172.99 L420.07,172.79 L420.13,172.60 L420.18,172.40 L420.20,172.35 L420.24,172.21 L420.30,172.02 L420.36,171.83 L420.42,171.64 L420.47,171.45 L420.53,171.26 L420.59,171.08 L420.65,170.89 L420.71,170.71 L420.76,170.52 L420.82,170.34 L420.88,170.16 L420.93,170.02 L420.94,169.98 L421.00,169.80 L421.05,169.62 L421.11,169.45 L421.17,169.27 L421.23,169.10 L421.29,168.92 L421.35,168.75 L421.40,168.58 L421.46,168.41 L421.52,168.24 L421.58,168.08 L421.64,167.91 L421.65,167.87 L421.69,167.75 L421.75,167.58 L421.81,167.42 L421.87,167.26 L421.93,167.10 L421.98,166.94 L422.04,166.78 L422.10,166.63 L422.16,166.47 L422.22,166.32 L422.27,166.16 L422.33,166.01 L422.37,165.90 L422.39,165.86 L422.45,165.71 L422.51,165.57 L422.56,165.42 L422.62,165.28 L422.68,165.13 L422.74,164.99 L422.80,164.85 L422.85,164.71 L422.91,164.57 L422.97,164.43 L423.03,164.30 L423.09,164.16 L423.10,164.13 L423.14,164.03 L423.20,163.90 L423.26,163.77 L423.32,163.64 L423.38,163.51 L423.44,163.38 L423.49,163.26 L423.55,163.14 L423.61,163.01 L423.67,162.89 L423.73,162.77 L423.78,162.65 L423.82,162.57 L423.84,162.54 L423.90,162.42 L423.96,162.31 L424.02,162.19 L424.07,162.08 L424.13,161.97 L424.19,161.87 L424.25,161.76 L424.31,161.65 L424.36,161.55 L424.42,161.45 L424.48,161.34 L424.54,161.24 L424.55,161.23 L424.60,161.14 L424.65,161.05 L424.71,160.95 L424.77,160.86 L424.83,160.76 L424.89,160.67 L424.94,160.58 L425.00,160.49 L425.06,160.41 L425.12,160.32 L425.18,160.24 L425.24,160.15 L425.27,160.10 L425.29,160.07 L425.35,159.99 L425.41,159.91 L425.47,159.84 L425.53,159.76 L425.58,159.69 L425.64,159.61 L425.70,159.54 L425.76,159.47 L425.82,159.40 L425.87,159.34 L425.93,159.27 L425.99,159.21 L426.00,159.20 L426.05,159.14 L426.11,159.08 L426.16,159.02 L426.22,158.96 L426.28,158.91 L426.34,158.85 L426.40,158.80 L426.45,158.74 L426.51,158.69 L426.57,158.64 L426.63,158.59 L426.69,158.55 L426.72,158.52 L426.74,158.50 L426.80,158.45 L426.86,158.41 L426.92,158.37 L426.98,158.33 L427.03,158.29 L427.09,158.25 L427.15,158.22 L427.21,158.18 L427.27,158.15 L427.33,158.12 L427.38,158.09 L427.44,158.06 L427.45,158.06 L427.50,158.03 L427.56,158.01 L427.62,157.98 L427.67,157.96 L427.73,157.94 L427.79,157.91 L427.85,157.90 L427.91,157.88 L427.96,157.86 L428.02,157.85 L428.08,157.83 L428.17,157.81 L428.90,157.77 L429.62,157.93 L430.34,158.28 L431.07,158.80 L431.79,159.47 L432.52,160.30 L433.24,161.25 L433.97,162.32 L434.69,163.49 L435.42,164.75 L436.14,166.08 L436.87,167.48 L437.59,168.93 L438.31,170.43 L439.04,171.96 L439.76,173.51 L440.49,175.08 L441.21,176.67 L441.94,178.26 L442.66,179.86 L443.39,181.45 L444.11,183.04 L444.84,184.62 L445.56,186.18 L446.28,187.73 L447.01,189.27 L447.73,190.79 L448.46,192.29 L449.18,193.76 L449.91,195.22 L450.63,196.66 L451.36,198.07 L452.08,199.47 L452.80,200.84 L453.53,202.18 L454.25,203.51 L454.98,204.81 L455.70,206.09 L456.43,207.35 L457.15,208.58 L457.88,209.79 L458.60,210.99 L459.33,212.16 L460.05,213.31 L460.77,214.43 L461.50,215.54 L462.22,216.63 L462.95,217.70 L463.67,218.75 L464.40,219.78 L465.12,220.79 L465.85,221.79 L466.57,222.77 L467.30,223.73 L468.02,224.67 L468.74,225.60 L469.47,226.51 L470.19,227.40 L470.92,228.28 L471.64,229.15 L472.37,230.00 L473.09,230.84 L473.82,231.66 L474.54,232.47 L475.27,233.26 L475.99,234.04 L476.71,234.81 L477.44,235.57 L478.16,236.31 L478.89,237.05 L479.61,237.77 L480.34,238.48 L481.06,239.18 L481.79,239.86 L482.51,240.54 L483.24,241.21 L483.96,241.86 L484.68,242.51 L485.41,243.15 L486.13,243.78 L486.86,244.39 L487.58,245.00 L488.31,245.60 L489.03,246.19 L489.76,246.78 L490.48,247.35 L491.21,247.92 L491.93,248.48 L492.65,249.03 L493.38,249.57 L494.10,250.11 L494.83,250.63 L495.55,251.16 L496.28,251.67 L497.00,252.18 L497.73,252.68 L498.45,253.17 L499.18,253.66 L499.90,254.14 L500.62,254.61 L501.35,255.08 L502.07,255.54 L502.80,256.00 L503.52,256.45 L504.25,256.90 L504.97,257.34 L505.70,257.77 L506.42,258.20 L507.14,258.62 L507.87,259.04 L508.59,259.45 L509.32,259.86 L510.04,260.26 L510.77,260.66 L511.49,261.06 L512.22,261.45 L512.94,261.83 L513.67,262.21 L514.39,262.59 L515.11,262.96 L515.84,263.33 L516.56,263.69 L517.29,264.05 L518.01,264.40 L518.74,264.75 L519.46,265.10 L520.19,265.44 L520.91,265.78 L521.64,266.12 L522.36,266.45 L523.08,266.78 L523.81,267.11 L524.53,267.43 L525.26,267.75 L525.98,268.06 L526.71,268.37 L527.43,268.68 L528.16,268.99 L528.88,269.29 L529.61,269.59 L530.33,269.88 L531.05,270.18 L531.78,270.47 L532.50,270.76 L533.23,271.04 L533.95,271.32 L534.68,271.60 L535.40,271.88 L536.13,272.15 L536.85,272.42 L537.58,272.69 L538.30,272.95 L539.02,273.22 L539.75,273.48 L540.47,273.73 L541.20,273.99 L541.92,274.24 L542.65,274.49 L543.37,274.74 L544.10,274.99 L544.82,275.23 L545.55,275.47 L546.27,275.71 L546.99,275.95 L547.72,276.19 L548.44,276.42 L549.17,276.65 L549.89,276.88 L550.62,277.11 L551.34,277.33 L552.07,277.55 L552.79,277.78 L553.52,278.00 L554.24,278.21 L554.96,278.43 L555.69,278.64 L556.41,278.85 L557.14,279.06 L557.86,279.27 L558.59,279.48 L559.31,279.68 L560.04,279.88 L560.76,280.09 L561.48,280.29 L562.21,280.48 L562.93,280.68 L563.66,280.87 L564.38,281.07 L565.11,281.26 L565.83,281.45 L566.56,281.64 L567.28,281.83 L568.01,282.01 L568.73,282.19 L569.45,282.38 L570.18,282.56 L570.90,282.74 L571.63,282.92 L572.35,283.09 L573.08,283.27 L573.80,283.44 L574.53,283.62 L575.25,283.79 L575.98,283.96 L576.70,284.13 L577.42,284.30 L578.15,284.46 L578.87,284.63 L579.60,284.79 L580.32,284.95 L581.05,285.12 L581.77,285.28 L582.50,285.43 L583.22,285.59 L583.95,285.75 L584.67,285.91 L585.39,286.06 L586.12,286.21 L586.84,286.37 L587.57,286.52 L588.29,286.67 L589.02,286.82 L589.74,286.96 L590.47,287.11 L591.19,287.26 L591.92,287.40 L592.64,287.55 L593.36,287.69 L594.09,287.83 L594.81,287.97 L595.54,288.11 L596.26,288.25 L596.99,288.39 L597.71,288.53 L598.44,288.66 L599.16,288.80 L599.89,288.93 L600.61,289.07 L601.33,289.20 L602.06,289.33 L602.78,289.46 L603.51,289.59 L604.23,289.72 L604.96,289.85 L605.68,289.98 L606.41,290.10 L607.13,290.23 L607.86,290.36 L608.58,290.48 L609.30,290.60 L610.03,290.73 L610.75,290.85 L611.48,290.97 L612.20,291.09 L612.93,291.21 L613.65,291.33 L614.38,291.45 L615.10,291.56 L615.82,291.68 L616.55,291.80 L617.27,291.91 L618.00,292.02 L618.72,292.14 L619.45,292.25 L620.17,292.36 L620.90,292.48 L621.62,292.59 L622.35,292.70 L623.07,292.81 L623.79,292.92 L624.52,293.02 L625.24,293.13 L625.97,293.24 L626.69,293.34 L627.42,293.45 L628.14,293.56 L628.87,293.66 L629.59,293.76 L630.32,293.87 L631.04,293.97 L631.76,294.07 L632.49,294.17 L633.21,294.27 L633.94,294.37 L634.66,294.47 L635.39,294.57 L636.11,294.67 L636.84,294.77 L637.56,294.87 L638.29,294.96 L639.01,295.06 L639.73,295.16 L640.46,295.25 L641.18,295.35 L641.91,295.44 L642.63,295.53 L643.36,295.63 L644.08,295.72 L644.81,295.81 L645.53,295.90 L646.26,295.99 L646.98,296.09 L647.70,296.18 L648.43,296.26 L649.15,296.35 L649.88,296.44 L650.60,296.53 L651.33,296.62 L652.05,296.71 L652.78,296.79 L653.50,296.88 L654.23,296.96 L654.95,297.05 L655.67,297.14 L656.40,297.22 L657.12,297.30 L657.85,297.39 L658.57,297.47 L659.30,297.55 L660.02,297.64 L660.75,297.72 L661.47,297.80 L662.20,297.88 L662.92,297.96 L663.64,298.04 L664.37,298.12 L665.09,298.20 L665.82,298.28 L666.54,298.36 L667.27,298.43 L667.99,298.51 L668.72,298.59 L669.44,298.67 L670.17,298.74 L670.89,298.82 L671.61,298.90 L672.34,298.97 L673.06,299.05 L673.79,299.12 L674.51,299.19 L675.24,299.27 L675.96,299.34 L676.69,299.42 L677.41,299.49 L678.13,299.56 L678.86,299.63 L679.58,299.70 L680.31,299.78 L681.03,299.85 L681.76,299.92 L682.48,299.99 L683.21,300.06 L683.93,300.13 L684.66,300.20 L685.38,300.27 L686.10,300.34 L686.83,300.40 L687.55,300.47 L688.28,300.54 L689.00,300.61 L689.73,300.67 L690.45,300.74 L691.18,300.81 L691.90,300.87 L692.63,300.94 L693.35,301.01 L694.07,301.07 L694.80,301.14 L695.52,301.20 L696.25,301.26 L696.97,301.33 L697.70,301.39 L698.42,301.46 L699.15,301.52 L699.87,301.58 L700.60,301.64 L701.32,301.71 L702.04,301.77 L702.77,301.83 L703.49,301.89 L704.22,301.95 L704.94,302.01 L705.67,302.08 L706.39,302.14 L707.12,302.20 L707.84,302.26 L708.57,302.32 L709.29,302.37 L710.01,302.43 L710.74,302.49 L711.46,302.55 L712.19,302.61 L712.91,302.67 L713.64,302.73 L714.36,302.78 L715.09,302.84 L715.81,302.90 L716.54,302.95 L717.26,303.01 L717.98,303.07 L718.71,303.12 L719.43,303.18 L720.16,303.23 L720.88,303.29 L721.61,303.34 L722.33,303.40 L723.06,303.45 L723.78,303.51 L724.51,303.56 L725.23,303.62 L725.95,303.67 L726.68,303.72 L727.40,303.78 L728.13,303.83 L728.85,303.88 L729.58,303.94 L730.30,303.99 L731.03,304.04 L731.75,304.09 L732.47,304.14 L733.20,304.20 L733.92,304.25 L734.65,304.30 L735.37,304.35 L736.10,304.40 L736.82,304.45 L737.55,304.50 L738.27,304.55 L739.00,304.60 L739.72,304.65 L740.44,304.70 L741.17,304.75 L741.89,304.80 L742.62,304.85 L743.34,304.90 L744.07,304.94 L744.79,304.99 L745.52,305.04 L746.24,305.09 L746.97,305.14 L747.69,305.18 L748.41,305.23 L749.14,305.28 L749.86,305.32 L750.59,305.37 L751.31,305.42 L752.04,305.46 L752.76,305.51 L753.49,305.56 L754.21,305.60 L754.94,305.65 L755.66,305.69 L756.38,305.74 L757.11,305.78 L757.83,305.83 L758.56,305.87 L759.28,305.92 L760.01,305.96 L760.73,306.01 L761.46,306.05 L762.18,306.10 L762.91,306.14 L763.63,306.18 L764.35,306.23 L765.08,306.27 L765.80,306.31 L766.53,306.36 L767.25,306.40 L767.98,306.44 L768.70,306.48 L769.43,306.53 L770.15,306.57 L770.88,306.61 L771.60,306.65 L772.32,306.69 L773.05,306.74 L773.77,306.78 L774.50,306.82 L775.22,306.86 L775.95,306.90 L776.67,306.94 L777.40,306.98 L778.12,307.02 L778.85,307.06 L779.57,307.10 L780.29,307.14 L781.02,307.18 L781.74,307.22 L782.47,307.26 L783.19,307.30 L783.92,307.34 L784.64,307.38 L785.37,307.42 L786.09,307.46 L786.81,307.50 L787.54,307.54 L788.26,307.58 L788.99,307.61 L789.71,307.65 L790.44,307.69 L791.16,307.73 L791.89,307.77 L792.61,307.80 L793.34,307.84 L794.06,307.88 L794.78,307.92 L795.51,307.95 L796.23,307.99 L796.96,308.03 L797.68,308.06 L798.41,308.10 L799.13,308.14 L799.86,308.17 L800.58,308.21 L801.31,308.25 L802.03,308.28 L802.75,308.32 L803.48,308.35 L804.20,308.39 L804.93,308.43 L805.65,308.46 L806.38,308.50 L807.10,308.53 L807.83,308.57 L808.55,308.60 L809.28,308.64 L810.00,308.67" stroke="#0000ff"/>
<path d="M398.46,264.62 L399.19,261.31 L399.91,257.99 L400.64,254.66 L401.36,251.33 L402.09,247.99 L402.81,244.66 L403.54,241.33 L404.26,238.00 L404.99,234.70 L405.71,231.40 L406.43,228.13 L407.16,224.87 L407.88,221.64 L408.61,218.44 L409.33,215.26 L410.06,212.11 L410.72,209.27 L410.78,209.02 L410.78,209.00 L410.84,208.77 L410.89,208.52 L410.95,208.28 L411.01,208.03 L411.07,207.78 L411.13,207.53 L411.18,207.29 L411.24,207.04 L411.30,206.80 L411.36,206.55 L411.42,206.30 L411.47,206.06 L411.51,205.92 L411.53,205.81 L411.59,205.57 L411.65,205.32 L411.71,205.08 L411.77,204.83 L411.82,204.59 L411.88,204.35 L411.94,204.10 L412.00,203.86 L412.06,203.62 L412.11,203.37 L412.17,203.13 L412.23,202.89 L412.23,202.88 L412.29,202.65 L412.35,202.41 L412.40,202.16 L412.46,201.92 L412.52,201.68 L412.58,201.44 L412.64,201.20 L412.69,200.96 L412.75,200.72 L412.81,200.48 L412.87,200.24 L412.93,200.00 L412.96,199.88 L412.98,199.76 L413.04,199.52 L413.10,199.29 L413.16,199.05 L413.22,198.81 L413.27,198.57 L413.33,198.33 L413.39,198.10 L413.45,197.86 L413.51,197.62 L413.56,197.39 L413.62,197.15 L413.68,196.92 L413.68,196.91 L413.74,196.68 L413.80,196.44 L413.86,196.21 L413.91,195.97 L413.97,195.74 L414.03,195.51 L414.09,195.27 L414.15,195.04 L414.20,194.80 L414.26,194.57 L414.32,194.34 L414.38,194.11 L414.40,194.00 L414.44,193.87 L414.49,193.64 L414.55,193.41 L414.61,193.18 L414.67,192.95 L414.73,192.72 L414.78,192.49 L414.84,192.25 L414.90,192.02 L414.96,191.79 L415.02,191.57 L415.07,191.34 L415.13,191.12 L415.13,191.11 L415.19,190.88 L415.25,190.65 L415.31,190.42 L415.36,190.19 L415.42,189.97 L415.48,189.74 L415.54,189.51 L415.60,189.29 L415.66,189.06 L415.71,188.83 L415.77,188.61 L415.83,188.38 L415.85,188.29 L415.89,188.16 L415.95,187.93 L416.00,187.71 L416.06,187.48 L416.12,187.26 L416.18,187.04 L416.24,186.81 L416.29,186.59 L416.35,186.37 L416.41,186.14 L416.47,185.92 L416.53,185.70 L416.58,185.50 L416.58,185.48 L416.64,185.26 L416.70,185.04 L416.76,184.81 L416.82,184.59 L416.87,184.37 L416.93,184.15 L416.99,183.93 L417.05,183.72 L417.11,183.50 L417.16,183.28 L417.22,183.06 L417.28,182.84 L417.30,182.76 L417.34,182.62 L417.40,182.41 L417.45,182.19 L417.51,181.97 L417.57,181.76 L417.63,181.54 L417.69,181.32 L417.75,181.11 L417.80,180.89 L417.86,180.68 L417.92,180.46 L417.98,180.25 L418.03,180.07 L418.04,180.04 L418.09,179.82 L418.15,179.61 L418.21,179.40 L418.27,179.18 L418.33,178.97 L418.38,178.76 L418.44,178.55 L418.50,178.34 L418.56,178.13 L418.62,177.91 L418.67,177.70 L418.73,177.49 L418.75,177.42 L418.79,177.28 L418.85,177.07 L418.91,176.87 L418.96,176.66 L419.02,176.45 L419.08,176.24 L419.14,176.03 L419.20,175.82 L419.25,175.62 L419.31,175.41 L419.37,175.20 L419.43,175.00 L419.48,174.83 L419.49,174.79 L419.55,174.59 L419.60,174.38 L419.66,174.17 L419.72,173.97 L419.78,173.77 L419.84,173.56 L419.89,173.36 L419.95,173.15 L420.01,172.95 L420.07,172.75 L420.13,172.55 L420.18,172.34 L420.20,172.29 L420.24,172.14 L420.30,171.94 L420.36,171.74 L420.42,171.54 L420.47,171.34 L420.53,171.14 L420.59,170.94 L420.65,170.74 L420.71,170.54 L420.76,170.34 L420.82,170.14 L420.88,169.95 L420.93,169.79 L420.94,169.75 L421.00,169.55 L421.05,169.35 L421.11,169.16 L421.17,168.96 L421.23,168.76 L421.29,168.57 L421.35,168.37 L421.40,168.18 L421.46,167.98 L421.52,167.79 L421.58,167.60 L421.64,167.40 L421.65,167.35 L421.69,167.21 L421.75,167.02 L421.81,166.82 L421.87,166.63 L421.93,166.44 L421.98,166.25 L422.04,166.06 L422.10,165.86 L422.16,165.67 L422.22,165.48 L422.27,165.29 L422.33,165.10 L422.37,164.97 L422.39,164.91 L422.45,164.73 L422.51,164.54 L422.56,164.35 L422.62,164.16 L422.68,163.97 L422.74,163.79 L422.80,163.60 L422.85,163.41 L422.91,163.23 L422.97,163.04 L423.03,162.86 L423.09,162.67 L423.10,162.63 L423.14,162.49 L423.20,162.30 L423.26,162.12 L423.32,161.93 L423.38,161.75 L423.44,161.57 L423.49,161.38 L423.55,161.20 L423.61,161.02 L423.67,160.84 L423.73,160.66 L423.78,160.47 L423.82,160.35 L423.84,160.29 L423.90,160.11 L423.96,159.93 L424.02,159.75 L424.07,159.57 L424.13,159.40 L424.19,159.22 L424.25,159.04 L424.31,158.86 L424.36,158.68 L424.42,158.51 L424.48,158.33 L424.54,158.15 L424.55,158.12 L424.60,157.98 L424.65,157.80 L424.71,157.63 L424.77,157.45 L424.83,157.28 L424.89,157.10 L424.94,156.93 L425.00,156.75 L425.06,156.58 L425.12,156.41 L425.18,156.23 L425.24,156.06 L425.27,155.95 L425.29,155.89 L425.35,155.72 L425.41,155.55 L425.47,155.38 L425.53,155.21 L425.58,155.04 L425.64,154.87 L425.70,154.70 L425.76,154.53 L425.82,154.36 L425.87,154.19 L425.93,154.02 L425.99,153.85 L426.00,153.83 L426.05,153.69 L426.11,153.52 L426.16,153.35 L426.22,153.19 L426.28,153.02 L426.34,152.86 L426.40,152.69 L426.45,152.52 L426.51,152.36 L426.57,152.20 L426.63,152.03 L426.69,151.87 L426.72,151.77 L426.74,151.71 L426.80,151.54 L426.86,151.38 L426.92,151.22 L426.98,151.06 L427.03,150.90 L427.09,150.73 L427.15,150.57 L427.21,150.41 L427.27,150.25 L427.33,150.09 L427.38,149.93 L427.44,149.78 L427.45,149.76 L427.50,149.62 L427.56,149.46 L427.62,149.30 L427.67,149.14 L427.73,148.99 L427.79,148.83 L427.85,148.67 L427.91,148.52 L427.96,148.36 L428.02,148.21 L428.08,148.05 L428.17,147.81 L428.90,145.91 L429.62,144.07 L430.34,142.28 L431.07,140.55 L431.79,138.87 L432.52,137.25 L433.24,135.68 L433.97,134.16 L434.69,132.70 L435.42,131.30 L436.14,129.94 L436.87,128.64 L437.59,127.39 L438.31,126.19 L439.04,125.05 L439.76,123.95 L440.49,122.90 L441.21,121.90 L441.94,120.96 L442.66,120.05 L443.39,119.20 L444.11,118.39 L444.84,117.63 L445.56,116.91 L446.28,116.24 L447.01,115.61 L447.73,115.02 L448.46,114.48 L449.18,113.97 L449.91,113.51 L450.63,113.09 L451.36,112.70 L452.08,112.35 L452.80,112.04 L453.53,111.76 L454.25,111.52 L454.98,111.31 L455.70,111.14 L456.43,111.00 L457.15,110.89 L457.88,110.81 L458.60,110.76 L459.33,110.74 L460.05,110.75 L460.77,110.78 L461.50,110.85 L462.22,110.94 L462.95,111.05 L463.67,111.19 L464.40,111.35 L465.12,111.53 L465.85,111.74 L466.57,111.97 L467.30,112.22 L468.02,112.49 L468.74,112.78 L469.47,113.08 L470.19,113.41 L470.92,113.75 L471.64,114.11 L472.37,114.49 L473.09,114.88 L473.82,115.28 L474.54,115.70 L475.27,116.14 L475.99,116.58 L476.71,117.04 L477.44,117.51 L478.16,118.00 L478.89,118.49 L479.61,119.00 L480.34,119.51 L481.06,120.04 L481.79,120.57 L482.51,121.12 L483.24,121.67 L483.96,122.23 L484.68,122.80 L485.41,123.37 L486.13,123.95 L486.86,124.54 L487.58,125.14 L488.31,125.74 L489.03,126.34 L489.76,126.95 L490.48,127.57 L491.21,128.19 L491.93,128.81 L492.65,129.44 L493.38,130.08 L494.10,130.71 L494.83,131.35 L495.55,131.99 L496.28,132.64 L497.00,133.28 L497.73,133.93 L498.45,134.59 L499.18,135.24 L499.90,135.89 L500.62,136.55 L501.35,137.21 L502.07,137.87 L502.80,138.53 L503.52,139.19 L504.25,139.85 L504.97,140.51 L505.70,141.17 L506.42,141.83 L507.14,142.49 L507.87,143.15 L508.59,143.82 L509.32,144.48 L510.04,145.14 L510.77,145.80 L511.49,146.46 L512.22,147.11 L512.94,147.77 L513.67,148.43 L514.39,149.08 L515.11,149.74 L515.84,150.39 L516.56,151.04 L517.29,151.69 L518.01,152.34 L518.74,152.98 L519.46,153.63 L520.19,154.27 L520.91,154.91 L521.64,155.55 L522.36,156.19 L523.08,156.82 L523.81,157.46 L524.53,158.09 L525.26,158.72 L525.98,159.34 L526.71,159.97 L527.43,160.59 L528.16,161.21 L528.88,161.83 L529.61,162.44 L530.33,163.05 L531.05,163.67 L531.78,164.27 L532.50,164.88 L533.23,165.48 L533.95,166.08 L534.68,166.68 L535.40,167.27 L536.13,167.87 L536.85,168.46 L537.58,169.05 L538.30,169.63 L539.02,170.21 L539.75,170.79 L540.47,171.37 L541.20,171.94 L541.92,172.51 L542.65,173.08 L543.37,173.65 L544.10,174.21 L544.82,174.77 L545.55,175.33 L546.27,175.88 L546.99,176.44 L547.72,176.99 L548.44,177.53 L549.17,178.08 L549.89,178.62 L550.62,179.16 L551.34,179.69 L552.07,180.23 L552.79,180.76 L553.52,181.28 L554.24,181.81 L554.96,182.33 L555.69,182.85 L556.41,183.37 L557.14,183.88 L557.86,184.39 L558.59,184.90 L559.31,185.41 L560.04,185.91 L560.76,186.41 L561.48,186.91 L562.21,187.40 L562.93,187.89 L563.66,188.38 L564.38,188.87 L565.11,189.35 L565.83,189.84 L566.56,190.32 L567.28,190.79 L568.01,191.27 L568.73,191.74 L569.45,192.21 L570.18,192.67 L570.90,193.14 L571.63,193.60 L572.35,194.06 L573.08,194.51 L573.80,194.97 L574.53,195.42 L575.25,195.87 L575.98,196.31 L576.70,196.76 L577.42,197.20 L578.15,197.64 L578.87,198.07 L579.60,198.51 L580.32,198.94 L581.05,199.37 L581.77,199.79 L582.50,200.22 L583.22,200.64 L583.95,201.06 L584.67,201.48 L585.39,201.89 L586.12,202.30 L586.84,202.72 L587.57,203.12 L588.29,203.53 L589.02,203.93 L589.74,204.34 L590.47,204.73 L591.19,205.13 L591.92,205.53 L592.64,205.92 L593.36,206.31 L594.09,206.70 L594.81,207.08 L595.54,207.47 L596.26,207.85 L596.99,208.23 L597.71,208.61 L598.44,208.98 L599.16,209.36 L599.89,209.73 L600.61,210.10 L601.33,210.47 L602.06,210.83 L602.78,211.20 L603.51,211.56 L604.23,211.92 L604.96,212.28 L605.68,212.63 L606.41,212.98 L607.13,213.34 L607.86,213.69 L608.58,214.03 L609.30,214.38 L610.03,214.73 L610.75,215.07 L611.48,215.41 L612.20,215.75 L612.93,216.08 L613.65,216.42 L614.38,216.75 L615.10,217.08 L615.82,217.41 L616.55,217.74 L617.27,218.07 L618.00,218.39 L618.72,218.72 L619.45,219.04 L620.17,219.36 L620.90,219.67 L621.62,219.99 L622.35,220.30 L623.07,220.62 L623.79,220.93 L624.52,221.24 L625.24,221.54 L625.97,221.85 L626.69,222.16 L627.42,222.46 L628.14,222.76 L628.87,223.06 L629.59,223.36 L630.32,223.65 L631.04,223.95 L631.76,224.24 L632.49,224.53 L633.21,224.82 L633.94,225.11 L634.66,225.40 L635.39,225.69 L636.11,225.97 L636.84,226.25 L637.56,226.54 L638.29,226.82 L639.01,227.10 L639.73,227.37 L640.46,227.65 L641.18,227.92 L641.91,228.20 L642.63,228.47 L643.36,228.74 L644.08,229.01 L644.81,229.27 L645.53,229.54 L646.26,229.81 L646.98,230.07 L647.70,230.33 L648.43,230.59 L649.15,230.85 L649.88,231.11 L650.60,231.37 L651.33,231.62 L652.05,231.88 L652.78,232.13 L653.50,232.38 L654.23,232.63 L654.95,232.88 L655.67,233.13 L656.40,233.38 L657.12,233.62 L657.85,233.87 L658.57,234.11 L659.30,234.35 L660.02,234.60 L660.75,234.84 L661.47,235.07 L662.20,235.31 L662.92,235.55 L663.64,235.78 L664.37,236.02 L665.09,236.25 L665.82,236.48 L666.54,236.71 L667.27,236.94 L667.99,237.17 L668.72,237.40 L669.44,237.63 L670.17,237.85 L670.89,238.08 L671.61,238.30 L672.34,238.52 L673.06,238.74 L673.79,238.96 L674.51,239.18 L675.24,239.40 L675.96,239.62 L676.69,239.83 L677.41,240.05 L678.13,240.26 L678.86,240.47 L679.58,240.69 L680.31,240.90 L681.03,241.11 L681.76,241.32 L682.48,241.52 L683.21,241.73 L683.93,241.94 L684.66,242.14 L685.38,242.35 L686.10,242.55 L686.83,242.75 L687.55,242.96 L688.28,243.16 L689.00,243.36 L689.73,243.55 L690.45,243.75 L691.18,243.95 L691.90,244.15 L692.63,244.34 L693.35,244.54 L694.07,244.73 L694.80,244.92 L695.52,245.11 L696.25,245.30 L696.97,245.49 L697.70,245.68 L698.42,245.87 L699.15,246.06 L699.87,246.25 L700.60,246.43 L701.32,246.62 L702.04,246.80 L702.77,246.99 L703.49,247.17 L704.22,247.35 L704.94,247.53 L705.67,247.71 L706.39,247.89 L707.12,248.07 L707.84,248.25 L708.57,248.43 L709.29,248.60 L710.01,248.78 L710.74,248.95 L711.46,249.13 L712.19,249.30 L712.91,249.47 L713.64,249.64 L714.36,249.82 L715.09,249.99 L715.81,250.16 L716.54,250.33 L717.26,250.49 L717.98,250.66 L718.71,250.83 L719.43,251.00 L720.16,251.16 L720.88,251.33 L721.61,251.49 L722.33,251.65 L723.06,251.82 L723.78,251.98 L724.51,252.14 L725.23,252.30 L725.95,252.46 L726.68,252.62 L727.40,252.78 L728.13,252.94 L728.85,253.10 L729.58,253.25 L730.30,253.41 L731.03,253.56 L731.75,253.72 L732.47,253.87 L733.20,254.03 L733.92,254.18 L734.65,254.33 L735.37,254.49 L736.10,254.64 L736.82,254.79 L737.55,254.94 L738.27,255.09 L739.00,255.24 L739.72,255.38 L740.44,255.53 L741.17,255.68 L741.89,255.83 L742.62,255.97 L743.34,256.12 L744.07,256.26 L744.79,256.41 L745.52,256.55 L746.24,256.69 L746.97,256.84 L747.69,256.98 L748.41,257.12 L749.14,257.26 L749.86,257.40 L750.59,257.54 L751.31,257.68 L752.04,257.82 L752.76,257.96 L753.49,258.10 L754.21,258.23 L754.94,258.37 L755.66,258.51 L756.38,258.64 L757.11,258.78 L757.83,258.91 L758.56,259.05 L759.28,259.18 L760.01,259.31 L760.73,259.44 L761.46,259.58 L762.18,259.71 L762.91,259.84 L763.63,259.97 L764.35,260.10 L765.08,260.23 L765.80,260.36 L766.53,260.49 L767.25,260.62 L767.98,260.74 L768.70,260.87 L769.43,261.00 L770.15,261.12 L770.88,261.25 L771.60,261.37 L772.32,261.50 L773.05,261.62 L773.77,261.75 L774.50,261.87 L775.22,261.99 L775.95,262.12 L776.67,262.24 L777.40,262.36 L778.12,262.48 L778.85,262.60 L779.57,262.72 L780.29,262.84 L781.02,262.96 L781.74,263.08 L782.47,263.20 L783.19,263.32 L783.92,263.44 L784.64,263.56 L785.37,263.67 L786.09,263.79 L786.81,263.91 L787.54,264.02 L788.26,264.14 L788.99,264.25 L789.71,264.37 L790.44,264.48 L791.16,264.59 L791.89,264.71 L792.61,264.82 L793.34,264.93 L794.06,265.05 L794.78,265.16 L795.51,265.27 L796.23,265.38 L796.96,265.49 L797.68,265.60 L798.41,265.71 L799.13,265.82 L799.86,265.93 L800.58,266.04 L801.31,266.15 L802.03,266.25 L802.75,266.36 L803.48,266.47 L804.20,266.58 L804.93,266.68 L805.65,266.79 L806.38,266.90 L807.10,267.00 L807.83,267.11 L808.55,267.21 L809.28,267.31 L810.00,267.42" stroke="#00ff00"/>
<path d="M431.79,137.18 L432.52,135.32 L433.24,133.49 L433.97,131.70 L434.69,129.95 L435.42,128.23 L436.14,126.54 L436.87,124.89 L437.59,123.27 L438.31,121.68 L439.04,120.12 L439.76,118.59 L440.49,117.09 L441.21,115.63 L441.94,114.19 L442.66,112.78 L443.39,111.39 L444.11,110.04 L444.84,108.71 L445.56,107.41 L446.28,106.13 L447.01,104.88 L447.73,103.65 L448.46,102.45 L449.18,101.27 L449.91,100.11 L450.63,98.98 L451.36,97.86 L452.08,96.77 L452.80,95.70 L453.53,94.65 L454.25,93.62 L454.98,92.62 L455.70,91.63 L456.43,90.66 L457.15,89.70 L457.88,88.77 L458.60,87.85 L459.33,86.96 L460.05,86.07 L460.77,85.21 L461.50,84.36 L462.22,83.53 L462.95,82.71 L463.67,81.91 L464.40,81.12 L465.12,80.35 L465.85,79.59 L466.57,78.85 L467.30,78.12 L468.02,77.40 L468.74,76.70 L469.47,76.01 L470.19,75.33 L470.92,74.66 L471.64,74.01 L472.37,73.37 L473.09,72.74 L473.82,72.12 L474.54,71.51 L475.27,70.91 L475.99,70.32 L476.71,69.75 L477.44,69.18 L478.16,68.63 L478.89,68.08 L479.61,67.54 L480.34,67.02 L481.06,66.50 L481.79,65.99 L482.51,65.49 L483.24,65.00 L483.96,64.52 L484.68,64.04 L485.41,63.58 L486.13,63.12 L486.86,62.67 L487.58,62.22 L488.31,61.79 L489.03,61.36 L489.76,60.94 L490.48,60.53 L491.21,60.12 L491.93,59.72 L492.65,59.33 L493.38,58.94 L494.10,58.56 L494.83,58.19 L495.55,57.82 L496.28,57.46 L497.00,57.10 L497.73,56.75 L498.45,56.41 L499.18,56.07 L499.90,55.74 L500.62,55.41 L501.35,55.09 L502.07,54.77 L502.80,54.46 L503.52,54.16 L504.25,53.86 L504.97,53.56 L505.70,53.27 L506.42,52.98 L507.14,52.70 L507.87,52.42 L508.59,52.15 L509.32,51.88 L510.04,51.61 L510.77,51.35 L511.49,51.10 L512.22,50.84 L512.94,50.59 L513.67,50.35 L514.39,50.11 L515.11,49.87 L515.84,49.64 L516.56,49.41 L517.29,49.19 L518.01,48.96 L518.74,48.74 L519.46,48.53 L520.19,48.32 L520.91,48.11 L521.64,47.90 L522.36,47.70 L523.08,47.50 L523.81,47.31 L524.53,47.11 L525.26,46.93 L525.98,46.74 L526.71,46.56 L527.43,46.37 L528.16,46.20 L528.88,46.02 L529.61,45.85 L530.33,45.68 L531.05,45.51 L531.78,45.35 L532.50,45.19 L533.23,45.03 L533.95,44.87 L534.68,44.71 L535.40,44.56 L536.13,44.41 L536.85,44.27 L537.58,44.12 L538.30,43.98 L539.02,43.84 L539.75,43.70 L540.47,43.56 L541.20,43.43 L541.92,43.30 L542.65,43.17 L543.37,43.04 L544.10,42.91 L544.82,42.79 L545.55,42.67 L546.27,42.55 L546.99,42.43 L547.72,42.31 L548.44,42.20 L549.17,42.09 L549.89,41.98 L550.62,41.87 L551.34,41.76 L552.07,41.66 L552.79,41.55 L553.52,41.45 L554.24,41.35 L554.96,41.25 L555.69,41.16 L556.41,41.06 L557.14,40.97 L557.86,40.87 L558.59,40.78 L559.31,40.70 L560.04,40.61 L560.76,40.52 L561.48,40.44 L562.21,40.35 L562.93,40.27 L563.66,40.19 L564.38,40.11 L565.11,40.03 L565.83,39.96 L566.56,39.88 L567.28,39.81 L568.01,39.74 L568.73,39.67 L569.45,39.60 L570.18,39.53 L570.90,39.46 L571.63,39.39 L572.35,39.33 L573.08,39.26 L573.80,39.20 L574.53,39.14 L575.25,39.08 L575.98,39.02 L576.70,38.96 L577.42,38.91 L578.15,38.85 L578.87,38.80 L579.60,38.74 L580.32,38.69 L581.05,38.64 L581.77,38.59 L582.50,38.54 L583.22,38.49 L583.95,38.44 L584.67,38.39 L585.39,38.35 L586.12,38.30 L586.84,38.26 L587.57,38.22 L588.29,38.18 L589.02,38.13 L589.74,38.09 L590.47,38.05 L591.19,38.02 L591.92,37.98 L592.64,37.94 L593.36,37.91 L594.09,37.87 L594.81,37.84 L595.54,37.81 L596.26,37.77 L596.99,37.74 L597.71,37.71 L598.44,37.68 L599.16,37.65 L599.89,37.62 L600.61,37.60 L601.33,37.57 L602.06,37.54 L602.78,37.52 L603.51,37.49 L604.23,37.47 L604.96,37.45 L605.68,37.42 L606.41,37.40 L607.13,37.38 L607.86,37.36 L608.58,37.34 L609.30,37.32 L610.03,37.30 L610.75,37.29 L611.48,37.27 L612.20,37.25 L612.93,37.24 L613.65,37.22 L614.38,37.21 L615.10,37.20 L615.82,37.18 L616.55,37.17 L617.27,37.16 L618.00,37.15 L618.72,37.14 L619.45,37.13 L620.17,37.12 L620.90,37.11 L621.62,37.10 L622.35,37.09 L623.07,37.09 L623.79,37.08 L624.52,37.07 L625.24,37.07 L625.97,37.06 L626.69,37.06 L627.42,37.06 L628.14,37.05 L628.87,37.05 L629.59,37.05 L630.32,37.05 L631.04,37.04 L631.76,37.04 L632.49,37.04 L633.21,37.04 L633.94,37.05 L634.66,37.05 L635.39,37.05 L636.11,37.05 L636.84,37.05 L637.56,37.06 L638.29,37.06 L639.01,37.07 L639.73,37.07 L640.46,37.08 L641.18,37.08 L641.91,37.09 L642.63,37.09 L643.36,37.10 L644.08,37.11 L644.81,37.12 L645.53,37.13 L646.26,37.13 L646.98,37.14 L647.70,37.15 L648.43,37.16 L649.15,37.17 L649.88,37.19 L650.60,37.20 L651.33,37.21 L652.05,37.22 L652.78,37.23 L653.50,37.25 L654.23,37.26 L654.95,37.27 L655.67,37.29 L656.40,37.30 L657.12,37.32 L657.85,37.33 L658.57,37.35 L659.30,37.37 L660.02,37.38 L660.75,37.40 L661.47,37.42 L662.20,37.43 L662.92,37.45 L663.64,37.47 L664.37,37.49 L665.09,37.51 L665.82,37.53 L666.54,37.55 L667.27,37.57 L667.99,37.59 L668.72,37.61 L669.44,37.63 L670.17,37.65 L670.89,37.67 L671.61,37.70 L672.34,37.72 L673.06,37.74 L673.79,37.76 L674.51,37.79 L675.24,37.81 L675.96,37.84 L676.69,37.86 L677.41,37.89 L678.13,37.91 L678.86,37.94 L679.58,37.96 L680.31,37.99 L681.03,38.01 L681.76,38.04 L682.48,38.07 L683.21,38.10 L683.93,38.12 L684.66,38.15 L685.38,38.18 L686.10,38.21 L686.83,38.24 L687.55,38.27 L688.28,38.29 L689.00,38.32 L689.73,38.35 L690.45,38.38 L691.18,38.41 L691.90,38.45 L692.63,38.48 L693.35,38.51 L694.07,38.54 L694.80,38.57 L695.52,38.60 L696.25,38.64 L696.97,38.67 L697.70,38.70 L698.42,38.74 L699.15,38.77 L699.87,38.80 L700.60,38.84 L701.32,38.87 L702.04,38.91 L702.77,38.94 L703.49,38.98 L704.22,39.01 L704.94,39.05 L705.67,39.08 L706.39,39.12 L707.12,39.15 L707.84,39.19 L708.57,39.23 L709.29,39.26 L710.01,39.30 L710.74,39.34 L711.46,39.38 L712.19,39.41 L712.91,39.45 L713.64,39.49 L714.36,39.53 L715.09,39.57 L715.81,39.61 L716.54,39.65 L717.26,39.69 L717.98,39.73 L718.71,39.77 L719.43,39.81 L720.16,39.85 L720.88,39.89 L721.61,39.93 L722.33,39.97 L723.06,40.01 L723.78,40.05 L724.51,40.10 L725.23,40.14 L725.95,40.18 L726.68,40.22 L727.40,40.27 L728.13,40.31 L728.85,40.35 L729.58,40.39 L730.30,40.44 L731.03,40.48 L731.75,40.53 L732.47,40.57 L733.20,40.61 L733.92,40.66 L734.65,40.70 L735.37,40.75 L736.10,40.79 L736.82,40.84 L737.55,40.88 L738.27,40.93 L739.00,40.98 L739.72,41.02 L740.44,41.07 L741.17,41.12 L741.89,41.16 L742.62,41.21 L743.34,41.26 L744.07,41.30 L744.79,41.35 L745.52,41.40 L746.24,41.45 L746.97,41.49 L747.69,41.54 L748.41,41.59 L749.14,41.64 L749.86,41.69 L750.59,41.74 L751.31,41.79 L752.04,41.84 L752.76,41.89 L753.49,41.94 L754.21,41.98 L754.94,42.03 L755.66,42.09 L756.38,42.14 L757.11,42.19 L757.83,42.24 L758.56,42.29 L759.28,42.34 L760.01,42.39 L760.73,42.44 L761.46,42.49 L762.18,42.54 L762.91,42.60 L763.63,42.65 L764.35,42.70 L765.08,42.75 L765.80,42.81 L766.53,42.86 L767.25,42.91 L767.98,42.96 L768.70,43.02 L769.43,43.07 L770.15,43.12 L770.88,43.18 L771.60,43.23 L772.32,43.29 L773.05,43.34 L773.77,43.39 L774.50,43.45 L775.22,43.50 L775.95,43.56 L776.67,43.61 L777.40,43.67 L778.12,43.72 L778.85,43.78 L779.57,43.83 L780.29,43.89 L781.02,43.95 L781.74,44.00 L782.47,44.06 L783.19,44.11 L783.92,44.17 L784.64,44.23 L785.37,44.28 L786.09,44.34 L786.81,44.40 L787.54,44.46 L788.26,44.51 L788.99,44.57 L789.71,44.63 L790.44,44.69 L791.16,44.74 L791.89,44.80 L792.61,44.86 L793.34,44.92 L794.06,44.98 L794.78,45.04 L795.51,45.09 L796.23,45.15 L796.96,45.21 L797.68,45.27 L798.41,45.33 L799.13,45.39 L799.86,45.45 L800.58,45.51 L801.31,45.57 L802.03,45.63 L802.75,45.69 L803.48,45.75 L804.20,45.81 L804.93,45.87 L805.65,45.93 L806.38,45.99 L807.10,46.05 L807.83,46.11 L808.55,46.17 L809.28,46.24 L810.00,46.30" stroke="#ff00ff"/>
<path d="M431.07,139.06 L431.79,137.16 L432.52,135.30 L433.24,133.47 L433.97,131.68 L434.69,129.92 L435.42,128.20 L436.14,126.51 L436.87,124.85 L437.59,123.23 L438.31,121.63 L439.04,120.07 L439.76,118.54 L440.49,117.04 L441.21,115.57 L441.94,114.12 L442.66,112.71 L443.39,111.32 L444.11,109.96 L444.84,108.62 L445.56,107.32 L446.28,106.03 L447.01,104.77 L447.73,103.54 L448.46,102.33 L449.18,101.14 L449.91,99.98 L450.63,98.84 L451.36,97.72 L452.08,96.62 L452.80,95.54 L453.53,94.48 L454.25,93.45 L454.98,92.43 L455.70,91.43 L456.43,90.45 L457.15,89.49 L457.88,88.55 L458.60,87.62 L459.33,86.71 L460.05,85.82 L460.77,84.95 L461.50,84.09 L462.22,83.24 L462.95,82.41 L463.67,81.60 L464.40,80.80 L465.12,80.02 L465.85,79.25 L466.57,78.49 L467.30,77.75 L468.02,77.02 L468.74,76.31 L469.47,75.60 L470.19,74.91 L470.92,74.23 L471.64,73.56 L472.37,72.91 L473.09,72.26 L473.82,71.63 L474.54,71.01 L475.27,70.40 L475.99,69.80 L476.71,69.20 L477.44,68.62 L478.16,68.05 L478.89,67.49 L479.61,66.94 L480.34,66.40 L481.06,65.86 L481.79,65.34 L482.51,64.82 L483.24,64.31 L483.96,63.81 L484.68,63.32 L485.41,62.84 L486.13,62.36 L486.86,61.89 L487.58,61.43 L488.31,60.98 L489.03,60.53 L489.76,60.09 L490.48,59.66 L491.21,59.24 L491.93,58.82 L492.65,58.41 L493.38,58.00 L494.10,57.60 L494.83,57.21 L495.55,56.82 L496.28,56.44 L497.00,56.06 L497.73,55.69 L498.45,55.33 L499.18,54.97 L499.90,54.62 L500.62,54.27 L501.35,53.92 L502.07,53.59 L502.80,53.25 L503.52,52.93 L504.25,52.60 L504.97,52.28 L505.70,51.97 L506.42,51.66 L507.14,51.35 L507.87,51.05 L508.59,50.76 L509.32,50.47 L510.04,50.18 L510.77,49.89 L511.49,49.61 L512.22,49.34 L512.94,49.06 L513.67,48.80 L514.39,48.53 L515.11,48.27 L515.84,48.01 L516.56,47.76 L517.29,47.51 L518.01,47.26 L518.74,47.02 L519.46,46.78 L520.19,46.54 L520.91,46.30 L521.64,46.07 L522.36,45.84 L523.08,45.62 L523.81,45.40 L524.53,45.18 L525.26,44.96 L525.98,44.75 L526.71,44.54 L527.43,44.33 L528.16,44.12 L528.88,43.92 L529.61,43.72 L530.33,43.52 L531.05,43.33 L531.78,43.14 L532.50,42.95 L533.23,42.76 L533.95,42.57 L534.68,42.39 L535.40,42.21 L536.13,42.03 L536.85,41.85 L537.58,41.68 L538.30,41.51 L539.02,41.34 L539.75,41.17 L540.47,41.00 L541.20,40.84 L541.92,40.68 L542.65,40.52 L543.37,40.36 L544.10,40.20 L544.82,40.05 L545.55,39.89 L546.27,39.74 L546.99,39.59 L547.72,39.45 L548.44,39.30 L549.17,39.16 L549.89,39.01 L550.62,38.87 L551.34,38.73 L552.07,38.60 L552.79,38.46 L553.52,38.33 L554.24,38.19 L554.96,38.06 L555.69,37.93 L556.41,37.80 L557.14,37.68 L557.86,37.55 L558.59,37.43 L559.31,37.30 L560.04,37.18 L560.76,37.06 L561.48,36.94 L562.21,36.83 L562.93,36.71 L563.66,36.59 L564.38,36.48 L565.11,36.37 L565.83,36.26 L566.56,36.15 L567.28,36.04 L568.01,35.93 L568.73,35.82 L569.45,35.72 L570.18,35.61 L570.90,35.51 L571.63,35.41 L572.35,35.31 L573.08,35.21 L573.80,35.11 L574.53,35.01 L575.25,34.91 L575.98,34.82 L576.70,34.72 L577.42,34.63 L578.15,34.53 L578.87,34.44 L579.60,34.35 L580.32,34.26 L581.05,34.17 L581.77,34.08 L582.50,33.99 L583.22,33.91 L583.95,33.82 L584.67,33.74 L585.39,33.65 L586.12,33.57 L586.84,33.48 L587.57,33.40 L588.29,33.32 L589.02,33.24 L589.74,33.16 L590.47,33.08 L591.19,33.01 L591.92,32.93 L592.64,32.85 L593.36,32.78 L594.09,32.70 L594.81,32.63 L595.54,32.55 L596.26,32.48 L596.99,32.41 L597.71,32.34 L598.44,32.27 L599.16,32.20 L599.89,32.13 L600.61,32.06 L601.33,31.99 L602.06,31.92 L602.78,31.85 L603.51,31.79 L604.23,31.72 L604.96,31.66 L605.68,31.59 L606.41,31.53 L607.13,31.46 L607.86,31.40 L608.58,31.34 L609.30,31.28 L610.03,31.22 L610.75,31.16 L611.48,31.10 L612.20,31.04 L612.93,30.98 L613.65,30.92 L614.38,30.86 L615.10,30.80 L615.82,30.75 L616.55,30.69 L617.27,30.63 L618.00,30.58 L618.72,30.52 L619.45,30.47 L620.17,30.41 L620.90,30.36 L621.62,30.31 L622.35,30.25 L623.07,30.20 L623.79,30.15 L624.52,30.10 L625.24,30.05 L625.97,30.00 L626.69,29.95 L627.42,29.90 L628.14,29.85 L628.87,29.80 L629.59,29.75 L630.32,29.70 L631.04,29.66 L631.76,29.61 L632.49,29.56 L633.21,29.52 L633.94,29.47 L634.66,29.42 L635.39,29.38 L636.11,29.33 L636.84,29.29 L637.56,29.24 L638.29,29.20 L639.01,29.16 L639.73,29.11 L640.46,29.07 L641.18,29.03 L641.91,28.99 L642.63,28.94 L643.36,28.90 L644.08,28.86 L644.81,28.82 L645.53,28.78 L646.26,28.74 L646.98,28.70 L647.70,28.66 L648.43,28.62 L649.15,28.58 L649.88,28.54 L650.60,28.51 L651.33,28.47 L652.05,28.43 L652.78,28.39 L653.50,28.36 L654.23,28.32 L654.95,28.28 L655.67,28.25 L656.40,28.21 L657.12,28.17 L657.85,28.14 L658.57,28.10 L659.30,28.07 L660.02,28.03 L660.75,28.00 L661.47,27.97 L662.20,27.93 L662.92,27.90 L663.64,27.87 L664.37,27.83 L665.09,27.80 L665.82,27.77 L666.54,27.73 L667.27,27.70 L667.99,27.67 L668.72,27.64 L669.44,27.61 L670.17,27.58 L670.89,27.54 L671.61,27.51 L672.34,27.48 L673.06,27.45 L673.79,27.42 L674.51,27.39 L675.24,27.36 L675.96,27.33 L676.69,27.30 L677.41,27.28 L678.13,27.25 L678.86,27.22 L679.58,27.19 L680.31,27.16 L681.03,27.13 L681.76,27.11 L682.48,27.08 L683.21,27.05 L683.93,27.02 L684.66,27.00 L685.38,26.97 L686.10,26.94 L686.83,26.92 L687.55,26.89 L688.28,26.86 L689.00,26.84 L689.73,26.81 L690.45,26.79 L691.18,26.76 L691.90,26.74 L692.63,26.71 L693.35,26.69 L694.07,26.66 L694.80,26.64 L695.52,26.61 L696.25,26.59 L696.97,26.57 L697.70,26.54 L698.42,26.52 L699.15,26.49 L699.87,26.47 L700.60,26.45 L701.32,26.42 L702.04,26.40 L702.77,26.38 L703.49,26.36 L704.22,26.33 L704.94,26.31 L705.67,26.29 L706.39,26.27 L707.12,26.25 L707.84,26.22 L708.57,26.20 L709.29,26.18 L710.01,26.16 L710.74,26.14 L711.46,26.12 L712.19,26.10 L712.91,26.08 L713.64,26.06 L714.36,26.04 L715.09,26.02 L715.81,26.00 L716.54,25.97 L717.26,25.96 L717.98,25.94 L718.71,25.92 L719.43,25.90 L720.16,25.88 L720.88,25.86 L721.61,25.84 L722.33,25.82 L723.06,25.80 L723.78,25.78 L724.51,25.76 L725.23,25.74 L725.95,25.73 L726.68,25.71 L727.40,25.69 L728.13,25.67 L728.85,25.65 L729.58,25.64 L730.30,25.62 L731.03,25.60 L731.75,25.58 L732.47,25.57 L733.20,25.55 L733.92,25.53 L734.65,25.51 L735.37,25.50 L736.10,25.48 L736.82,25.46 L737.55,25.45 L738.27,25.43 L739.00,25.41 L739.72,25.40 L740.44,25.38 L741.17,25.36 L741.89,25.35 L742.62,25.33 L743.34,25.32 L744.07,25.30 L744.79,25.29 L745.52,25.27 L746.24,25.25 L746.97,25.24 L747.69,25.22 L748.41,25.21 L749.14,25.19 L749.86,25.18 L750.59,25.16 L751.31,25.15 L752.04,25.13 L752.76,25.12 L753.49,25.11 L754.21,25.09 L754.94,25.08 L755.66,25.06 L756.38,25.05 L757.11,25.03 L757.83,25.02 L758.56,25.01 L759.28,24.99 L760.01,24.98 L760.73,24.96 L761.46,24.95 L762.18,24.94 L762.91,24.92 L763.63,24.91 L764.35,24.90 L765.08,24.88 L765.80,24.87 L766.53,24.86 L767.25,24.84 L767.98,24.83 L768.70,24.82 L769.43,24.81 L770.15,24.79 L770.88,24.78 L771.60,24.77 L772.32,24.76 L773.05,24.74 L773.77,24.73 L774.50,24.72 L775.22,24.71 L775.95,24.69 L776.67,24.68 L777.40,24.67 L778.12,24.66 L778.85,24.65 L779.57,24.64 L780.29,24.62 L781.02,24.61 L781.74,24.60 L782.47,24.59 L783.19,24.58 L783.92,24.57 L784.64,24.56 L785.37,24.54 L786.09,24.53 L786.81,24.52 L787.54,24.51 L788.26,24.50 L788.99,24.49 L789.71,24.48 L790.44,24.47 L791.16,24.46 L791.89,24.45 L792.61,24.44 L793.34,24.42 L794.06,24.41 L794.78,24.40 L795.51,24.39 L796.23,24.38 L796.96,24.37 L797.68,24.36 L798.41,24.35 L799.13,24.34 L799.86,24.33 L800.58,24.32 L801.31,24.31 L802.03,24.30 L802.75,24.29 L803.48,24.28 L804.20,24.27 L804.93,24.26 L805.65,24.25 L806.38,24.24 L807.10,24.24 L807.83,24.23 L808.55,24.22 L809.28,24.21 L810.00,24.20" stroke="#ff0000"/>
<path d="M376.00,329.30 L376.73,329.21 L377.45,328.95 L378.18,328.53 L378.90,327.93 L379.63,327.16 L380.35,326.23 L381.08,325.14 L381.80,323.89 L382.53,322.49 L383.25,320.93 L383.97,319.23 L384.70,317.40 L385.42,315.43 L386.15,313.33 L386.87,311.11 L387.60,308.77 L388.32,306.32 L389.05,303.78 L389.77,301.13 L390.50,298.40 L391.22,295.58 L391.94,292.69 L392.67,289.72 L393.39,286.70 L394.12,283.61 L394.84,280.48 L395.57,277.30 L396.29,274.08 L397.02,270.83 L397.74,267.55 L398.46,264.25 L399.19,260.93 L399.91,257.60 L400.64,254.26 L401.36,250.92 L402.09,247.58 L402.81,244.24 L403.54,240.92 L404.26,237.60 L404.99,234.30 L405.71,231.02 L406.43,227.76 L407.16,224.52 L407.88,221.31 L408.61,218.12 L409.33,214.97 L410.06,211.85 L410.72,209.03 L410.78,208.78 L410.78,208.76 L410.84,208.53 L410.89,208.29 L410.95,208.04 L411.01,207.80 L411.07,207.55 L411.13,207.31 L411.18,207.06 L411.24,206.82 L411.30,206.58 L411.36,206.33 L411.42,206.09 L411.47,205.85 L411.51,205.71 L411.53,205.60 L411.59,205.36 L411.65,205.12 L411.71,204.88 L411.77,204.63 L411.82,204.39 L411.88,204.15 L411.94,203.91 L412.00,203.67 L412.06,203.43 L412.11,203.19 L412.17,202.95 L412.23,202.71 L412.23,202.70 L412.29,202.47 L412.35,202.23 L412.40,201.99 L412.46,201.75 L412.52,201.51 L412.58,201.27 L412.64,201.03 L412.69,200.79 L412.75,200.56 L412.81,200.32 L412.87,200.08 L412.93,199.84 L412.96,199.73 L412.98,199.61 L413.04,199.37 L413.10,199.14 L413.16,198.90 L413.22,198.66 L413.27,198.43 L413.33,198.19 L413.39,197.96 L413.45,197.72 L413.51,197.49 L413.56,197.25 L413.62,197.02 L413.68,196.79 L413.68,196.79 L413.74,196.55 L413.80,196.32 L413.86,196.09 L413.91,195.85 L413.97,195.62 L414.03,195.39 L414.09,195.16 L414.15,194.93 L414.20,194.69 L414.26,194.46 L414.32,194.23 L414.38,194.00 L414.40,193.90 L414.44,193.77 L414.49,193.54 L414.55,193.31 L414.61,193.08 L414.67,192.85 L414.73,192.62 L414.78,192.40 L414.84,192.17 L414.90,191.94 L414.96,191.71 L415.02,191.48 L415.07,191.26 L415.13,191.04 L415.13,191.03 L415.19,190.80 L415.25,190.58 L415.31,190.35 L415.36,190.12 L415.42,189.90 L415.48,189.67 L415.54,189.45 L415.60,189.22 L415.66,189.00 L415.71,188.77 L415.77,188.55 L415.83,188.32 L415.85,188.23 L415.89,188.10 L415.95,187.88 L416.00,187.66 L416.06,187.43 L416.12,187.21 L416.18,186.99 L416.24,186.77 L416.29,186.54 L416.35,186.32 L416.41,186.10 L416.47,185.88 L416.53,185.66 L416.58,185.46 L416.58,185.44 L416.64,185.22 L416.70,185.00 L416.76,184.78 L416.82,184.56 L416.87,184.34 L416.93,184.13 L416.99,183.91 L417.05,183.69 L417.11,183.47 L417.16,183.25 L417.22,183.04 L417.28,182.82 L417.30,182.74 L417.34,182.60 L417.40,182.39 L417.45,182.17 L417.51,181.96 L417.57,181.74 L417.63,181.52 L417.69,181.31 L417.75,181.10 L417.80,180.88 L417.86,180.67 L417.92,180.45 L417.98,180.24 L418.03,180.06 L418.04,180.03 L418.09,179.81 L418.15,179.60 L418.21,179.39 L418.27,179.18 L418.33,178.97 L418.38,178.75 L418.44,178.54 L418.50,178.33 L418.56,178.12 L418.62,177.91 L418.67,177.70 L418.73,177.49 L418.75,177.42 L418.79,177.28 L418.85,177.07 L418.91,176.86 L418.96,176.66 L419.02,176.45 L419.08,176.24 L419.14,176.03 L419.20,175.82 L419.25,175.62 L419.31,175.41 L419.37,175.20 L419.43,175.00 L419.48,174.83 L419.49,174.79 L419.55,174.59 L419.60,174.38 L419.66,174.17 L419.72,173.97 L419.78,173.77 L419.84,173.56 L419.89,173.36 L419.95,173.15 L420.01,172.95 L420.07,172.75 L420.13,172.54 L420.18,172.34 L420.20,172.28 L420.24,172.14 L420.30,171.94 L420.36,171.74 L420.42,171.53 L420.47,171.33 L420.53,171.13 L420.59,170.93 L420.65,170.73 L420.71,170.53 L420.76,170.33 L420.82,170.13 L420.88,169.93 L420.93,169.78 L420.94,169.73 L421.00,169.54 L421.05,169.34 L421.11,169.14 L421.17,168.94 L421.23,168.75 L421.29,168.55 L421.35,168.35 L421.40,168.15 L421.46,167.96 L421.52,167.76 L421.58,167.57 L421.64,167.37 L421.65,167.32 L421.69,167.18 L421.75,166.98 L421.81,166.79 L421.87,166.59 L421.93,166.40 L421.98,166.21 L422.04,166.01 L422.10,165.82 L422.16,165.63 L422.22,165.43 L422.27,165.24 L422.33,165.05 L422.37,164.91 L422.39,164.86 L422.45,164.67 L422.51,164.48 L422.56,164.29 L422.62,164.10 L422.68,163.91 L422.74,163.72 L422.80,163.53 L422.85,163.34 L422.91,163.15 L422.97,162.96 L423.03,162.77 L423.09,162.58 L423.10,162.54 L423.14,162.39 L423.20,162.21 L423.26,162.02 L423.32,161.83 L423.38,161.65 L423.44,161.46 L423.49,161.27 L423.55,161.09 L423.61,160.90 L423.67,160.72 L423.73,160.53 L423.78,160.35 L423.82,160.22 L423.84,160.16 L423.90,159.98 L423.96,159.80 L424.02,159.61 L424.07,159.43 L424.13,159.25 L424.19,159.06 L424.25,158.88 L424.31,158.70 L424.36,158.52 L424.42,158.34 L424.48,158.15 L424.54,157.97 L424.55,157.94 L424.60,157.79 L424.65,157.61 L424.71,157.43 L424.77,157.25 L424.83,157.07 L424.89,156.89 L424.94,156.72 L425.00,156.54 L425.06,156.36 L425.12,156.18 L425.18,156.00 L425.24,155.83 L425.27,155.71 L425.29,155.65 L425.35,155.47 L425.41,155.29 L425.47,155.12 L425.53,154.94 L425.58,154.77 L425.64,154.59 L425.70,154.42 L425.76,154.24 L425.82,154.07 L425.87,153.89 L425.93,153.72 L425.99,153.54 L426.00,153.52 L426.05,153.37 L426.11,153.20 L426.16,153.02 L426.22,152.85 L426.28,152.68 L426.34,152.51 L426.40,152.33 L426.45,152.16 L426.51,151.99 L426.57,151.82 L426.63,151.65 L426.69,151.48 L426.72,151.38 L426.74,151.31 L426.80,151.14 L426.86,150.97 L426.92,150.80 L426.98,150.63 L427.03,150.46 L427.09,150.29 L427.15,150.13 L427.21,149.96 L427.27,149.79 L427.33,149.62 L427.38,149.46 L427.44,149.29 L427.45,149.28 L427.50,149.12 L427.56,148.96 L427.62,148.79 L427.67,148.63 L427.73,148.46 L427.79,148.30 L427.85,148.13 L427.91,147.97 L427.96,147.80 L428.02,147.64 L428.08,147.47 L428.17,147.22 L428.90,145.20 L429.62,143.23 L430.34,141.30 L431.07,139.41 L431.79,137.57 L432.52,135.76 L433.24,134.00 L433.97,132.27 L434.69,130.58 L435.42,128.94 L436.14,127.33 L436.87,125.76 L437.59,124.22 L438.31,122.72 L439.04,121.26 L439.76,119.84 L440.49,118.44 L441.21,117.09 L441.94,115.76 L442.66,114.48 L443.39,113.22 L444.11,111.99 L444.84,110.80 L445.56,109.64 L446.28,108.51 L447.01,107.41 L447.73,106.34 L448.46,105.30 L449.18,104.28 L449.91,103.30 L450.63,102.34 L451.36,101.41 L452.08,100.51 L452.80,99.63 L453.53,98.78 L454.25,97.95 L454.98,97.15 L455.70,96.37 L456.43,95.61 L457.15,94.88 L457.88,94.18 L458.60,93.49 L459.33,92.83 L460.05,92.18 L460.77,91.56 L461.50,90.96 L462.22,90.39 L462.95,89.83 L463.67,89.29 L464.40,88.77 L465.12,88.27 L465.85,87.78 L466.57,87.32 L467.30,86.87 L468.02,86.44 L468.74,86.03 L469.47,85.64 L470.19,85.26 L470.92,84.90 L471.64,84.55 L472.37,84.22 L473.09,83.91 L473.82,83.61 L474.54,83.32 L475.27,83.05 L475.99,82.79 L476.71,82.55 L477.44,82.32 L478.16,82.11 L478.89,81.90 L479.61,81.71 L480.34,81.54 L481.06,81.37 L481.79,81.22 L482.51,81.08 L483.24,80.95 L483.96,80.83 L484.68,80.73 L485.41,80.63 L486.13,80.55 L486.86,80.47 L487.58,80.41 L488.31,80.35 L489.03,80.31 L489.76,80.28 L490.48,80.25 L491.21,80.24 L491.93,80.23 L492.65,80.24 L493.38,80.25 L494.10,80.27 L494.83,80.30 L495.55,80.34 L496.28,80.38 L497.00,80.44 L497.73,80.50 L498.45,80.57 L499.18,80.65 L499.90,80.73 L500.62,80.82 L501.35,80.92 L502.07,81.03 L502.80,81.14 L503.52,81.26 L504.25,81.39 L504.97,81.52 L505.70,81.66 L506.42,81.80 L507.14,81.95 L507.87,82.11 L508.59,82.27 L509.32,82.44 L510.04,82.62 L510.77,82.80 L511.49,82.98 L512.22,83.17 L512.94,83.37 L513.67,83.57 L514.39,83.77 L515.11,83.98 L515.84,84.20 L516.56,84.42 L517.29,84.64 L518.01,84.87 L518.74,85.10 L519.46,85.34 L520.19,85.58 L520.91,85.82 L521.64,86.07 L522.36,86.33 L523.08,86.58 L523.81,86.84 L524.53,87.11 L525.26,87.37 L525.98,87.65 L526.71,87.92 L527.43,88.20 L528.16,88.48 L528.88,88.76 L529.61,89.05 L530.33,89.34 L531.05,89.64 L531.78,89.93 L532.50,90.23 L533.23,90.53 L533.95,90.84 L534.68,91.15 L535.40,91.46 L536.13,91.77 L536.85,92.08 L537.58,92.40 L538.30,92.72 L539.02,93.04 L539.75,93.37 L540.47,93.69 L541.20,94.02 L541.92,94.35 L542.65,94.69 L543.37,95.02 L544.10,95.36 L544.82,95.70 L545.55,96.04 L546.27,96.38 L546.99,96.72 L547.72,97.07 L548.44,97.41 L549.17,97.76 L549.89,98.11 L550.62,98.46 L551.34,98.82 L552.07,99.17 L552.79,99.53 L553.52,99.89 L554.24,100.24 L554.96,100.60 L555.69,100.96 L556.41,101.33 L557.14,101.69 L557.86,102.05 L558.59,102.42 L559.31,102.79 L560.04,103.15 L560.76,103.52 L561.48,103.89 L562.21,104.26 L562.93,104.63 L563.66,105.00 L564.38,105.38 L565.11,105.75 L565.83,106.12 L566.56,106.50 L567.28,106.87 L568.01,107.25 L568.73,107.63 L569.45,108.00 L570.18,108.38 L570.90,108.76 L571.63,109.14 L572.35,109.52 L573.08,109.90 L573.80,110.28 L574.53,110.66 L575.25,111.04 L575.98,111.42 L576.70,111.80 L577.42,112.18 L578.15,112.57 L578.87,112.95 L579.60,113.33 L580.32,113.71 L581.05,114.10 L581.77,114.48 L582.50,114.86 L583.22,115.25 L583.95,115.63 L584.67,116.01 L585.39,116.40 L586.12,116.78 L586.84,117.17 L587.57,117.55 L588.29,117.93 L589.02,118.32 L589.74,118.70 L590.47,119.09 L591.19,119.47 L591.92,119.85 L592.64,120.24 L593.36,120.62 L594.09,121.00 L594.81,121.39 L595.54,121.77 L596.26,122.15 L596.99,122.53 L597.71,122.92 L598.44,123.30 L599.16,123.68 L599.89,124.06 L600.61,124.44 L601.33,124.82 L602.06,125.21 L602.78,125.59 L603.51,125.97 L604.23,126.35 L604.96,126.73 L605.68,127.11 L606.41,127.48 L607.13,127.86 L607.86,128.24 L608.58,128.62 L609.30,129.00 L610.03,129.37 L610.75,129.75 L611.48,130.13 L612.20,130.50 L612.93,130.88 L613.65,131.25 L614.38,131.63 L615.10,132.00 L615.82,132.37 L616.55,132.75 L617.27,133.12 L618.00,133.49 L618.72,133.86 L619.45,134.23 L620.17,134.60 L620.90,134.97 L621.62,135.34 L622.35,135.71 L623.07,136.08 L623.79,136.45 L624.52,136.81 L625.24,137.18 L625.97,137.54 L626.69,137.91 L627.42,138.27 L628.14,138.64 L628.87,139.00 L629.59,139.36 L630.32,139.73 L631.04,140.09 L631.76,140.45 L632.49,140.81 L633.21,141.17 L633.94,141.53 L634.66,141.89 L635.39,142.24 L636.11,142.60 L636.84,142.96 L637.56,143.31 L638.29,143.67 L639.01,144.02 L639.73,144.38 L640.46,144.73 L641.18,145.08 L641.91,145.43 L642.63,145.78 L643.36,146.13 L644.08,146.48 L644.81,146.83 L645.53,147.18 L646.26,147.53 L646.98,147.87 L647.70,148.22 L648.43,148.57 L649.15,148.91 L649.88,149.25 L650.60,149.60 L651.33,149.94 L652.05,150.28 L652.78,150.62 L653.50,150.96 L654.23,151.30 L654.95,151.64 L655.67,151.98 L656.40,152.31 L657.12,152.65 L657.85,152.99 L658.57,153.32 L659.30,153.65 L660.02,153.99 L660.75,154.32 L661.47,154.65 L662.20,154.98 L662.92,155.31 L663.64,155.64 L664.37,155.97 L665.09,156.30 L665.82,156.63 L666.54,156.95 L667.27,157.28 L667.99,157.60 L668.72,157.93 L669.44,158.25 L670.17,158.57 L670.89,158.90 L671.61,159.22 L672.34,159.54 L673.06,159.86 L673.79,160.18 L674.51,160.49 L675.24,160.81 L675.96,161.13 L676.69,161.44 L677.41,161.76 L678.13,162.07 L678.86,162.38 L679.58,162.70 L680.31,163.01 L681.03,163.32 L681.76,163.63 L682.48,163.94 L683.21,164.25 L683.93,164.56 L684.66,164.86 L685.38,165.17 L686.10,165.47 L686.83,165.78 L687.55,166.08 L688.28,166.39 L689.00,166.69 L689.73,166.99 L690.45,167.29 L691.18,167.59 L691.90,167.89 L692.63,168.19 L693.35,168.49 L694.07,168.78 L694.80,169.08 L695.52,169.38 L696.25,169.67 L696.97,169.96 L697.70,170.26 L698.42,170.55 L699.15,170.84 L699.87,171.13 L700.60,171.42 L701.32,171.71 L702.04,172.00 L702.77,172.29 L703.49,172.57 L704.22,172.86 L704.94,173.15 L705.67,173.43 L706.39,173.71 L707.12,174.00 L707.84,174.28 L708.57,174.56 L709.29,174.84 L710.01,175.12 L710.74,175.40 L711.46,175.68 L712.19,175.96 L712.91,176.24 L713.64,176.51 L714.36,176.79 L715.09,177.06 L715.81,177.34 L716.54,177.61 L717.26,177.88 L717.98,178.15 L718.71,178.43 L719.43,178.70 L720.16,178.97 L720.88,179.23 L721.61,179.50 L722.33,179.77 L723.06,180.04 L723.78,180.30 L724.51,180.57 L725.23,180.83 L725.95,181.10 L726.68,181.36 L727.40,181.62 L728.13,181.88 L728.85,182.14 L729.58,182.41 L730.30,182.66 L731.03,182.92 L731.75,183.18 L732.47,183.44 L733.20,183.70 L733.92,183.95 L734.65,184.21 L735.37,184.46 L736.10,184.72 L736.82,184.97 L737.55,185.22 L738.27,185.47 L739.00,185.72 L739.72,185.97 L740.44,186.22 L741.17,186.47 L741.89,186.72 L742.62,186.97 L743.34,187.22 L744.07,187.46 L744.79,187.71 L745.52,187.95 L746.24,188.20 L746.97,188.44 L747.69,188.68 L748.41,188.93 L749.14,189.17 L749.86,189.41 L750.59,189.65 L751.31,189.89 L752.04,190.13 L752.76,190.36 L753.49,190.60 L754.21,190.84 L754.94,191.07 L755.66,191.31 L756.38,191.55 L757.11,191.78 L757.83,192.01 L758.56,192.25 L759.28,192.48 L760.01,192.71 L760.73,192.94 L761.46,193.17 L762.18,193.40 L762.91,193.63 L763.63,193.86 L764.35,194.09 L765.08,194.31 L765.80,194.54 L766.53,194.76 L767.25,194.99 L767.98,195.21 L768.70,195.44 L769.43,195.66 L770.15,195.88 L770.88,196.11 L771.60,196.33 L772.32,196.55 L773.05,196.77 L773.77,196.99 L774.50,197.21 L775.22,197.43 L775.95,197.64 L776.67,197.86 L777.40,198.08 L778.12,198.29 L778.85,198.51 L779.57,198.72 L780.29,198.94 L781.02,199.15 L781.74,199.37 L782.47,199.58 L783.19,199.79 L783.92,200.00 L784.64,200.21 L785.37,200.42 L786.09,200.63 L786.81,200.84 L787.54,201.05 L788.26,201.26 L788.99,201.46 L789.71,201.67 L790.44,201.88 L791.16,202.08 L791.89,202.29 L792.61,202.49 L793.34,202.69 L794.06,202.90 L794.78,203.10 L795.51,203.30 L796.23,203.50 L796.96,203.70 L797.68,203.90 L798.41,204.10 L799.13,204.30 L799.86,204.50 L800.58,204.70 L801.31,204.90 L802.03,205.09 L802.75,205.29 L803.48,205.49 L804.20,205.68 L804.93,205.88 L805.65,206.07 L806.38,206.27 L807.10,206.46 L807.83,206.65 L808.55,206.84 L809.28,207.04 L810.00,207.23" stroke="#8000ff"/>
</g>
<g stroke="#000" stroke-width="1.9" fill="none" stroke-linecap="butt">
<rect x="64.3" y="7.25" width="759.0" height="504.75"/>
<rect x="376.0" y="20.9" width="434.0" height="308.40000000000003"/>
<path d="M140.20,512.0 v-6.3 M216.10,512.0 v-12.5 M292.00,512.0 v-6.3 M367.90,512.0 v-12.5 M443.80,512.0 v-6.3 M519.70,512.0 v-12.5 M595.60,512.0 v-6.3 M671.50,512.0 v-12.5 M747.40,512.0 v-6.3 M64.3,449.67 h6.3 M64.3,387.34 h12.5 M64.3,325.01 h6.3 M64.3,262.68 h12.5 M64.3,200.35 h6.3 M64.3,138.02 h12.5 M64.3,75.69 h6.3 M64.3,13.36 h12.5 M419.40,329.3 v-6.0 M462.80,329.3 v-12.0 M506.20,329.3 v-6.0 M549.60,329.3 v-12.0 M593.00,329.3 v-6.0 M636.40,329.3 v-12.0 M679.80,329.3 v-6.0 M723.20,329.3 v-12.0 M766.60,329.3 v-6.0 M376.0,252.20 h6.3 M376.0,175.10 h12.5 M376.0,98.00 h6.3"/>
</g>
<g font-family="'Liberation Sans', Arial, sans-serif" fill="#000">
<g font-size="24.8" text-anchor="middle">
<text x="65.1" y="536.6">0</text>
<text x="216.1" y="536.6">1</text>
<text x="367.9" y="536.6">2</text>
<text x="519.7" y="536.6">3</text>
<text x="671.5" y="536.6">4</text>
<text x="824.3" y="536.6">5</text>
</g>
<g font-size="24.8" text-anchor="end">
<text x="59.2" y="521.5">0</text>
<text x="59.2" y="396.2">2</text>
<text x="59.2" y="271.6">4</text>
<text x="59.2" y="146.9">6</text>
<text x="59.2" y="22.3">8</text>
</g>
<g font-size="23.3" text-anchor="middle">
<text x="376.4" y="352.8">0</text>
<text x="462.8" y="352.8">2</text>
<text x="549.6" y="352.8">4</text>
<text x="636.4" y="352.8">6</text>
<text x="723.2" y="352.8">8</text>
<text transform="translate(809.7 352.8) scale(0.86 1)">10</text>
</g>
<g font-size="23.3" text-anchor="end">
<text x="371" y="337.9">0</text>
<text x="371" y="184.3">1</text>
<text x="371" y="30.1">2</text>
</g>
</g>
<g font-family="'Liberation Serif', 'Times New Roman', serif" fill="#000" stroke="#fff" stroke-width="0.3" transform="translate(228.70 68.10) scale(1 1)"><text transform="translate(0.47 0.00) scale(1.100 1)" font-size="28.60" font-style="italic" stroke-width="0.7">β</text><text x="14.32" y="11.20" font-size="20.50">0</text><text transform="translate(26.82 2.10) scale(1.482 1)" font-size="28.00">=</text><text x="53.72" y="1.50" font-size="31.00">∞</text></g>
<g font-family="'Liberation Serif', 'Times New Roman', serif" fill="#5a0091" stroke="#fff" stroke-width="0.3" transform="translate(195.80 283.30) scale(1.0 1.0)"><text transform="translate(0.47 0.00) scale(1.100 1)" font-size="28.60" font-style="italic" stroke-width="0.7">β</text><text x="14.32" y="11.20" font-size="20.50">0</text><text transform="translate(24.07 2.10) scale(1.452 1)" font-size="28.00">=</text><text x="45.80" y="0.00" font-size="29.00">5</text></g>
<g font-family="'Liberation Serif', 'Times New Roman', serif" fill="#0000ff" stroke="#fff" stroke-width="0.3" transform="translate(217.40 346.20) scale(1.0 1.0)"><text transform="translate(0.47 0.00) scale(1.100 1)" font-size="28.60" font-style="italic" stroke-width="0.7">β</text><text x="14.32" y="11.20" font-size="20.50">0</text><text transform="translate(24.07 2.10) scale(1.452 1)" font-size="28.00">=</text><text x="45.80" y="0.00" font-size="29.00">3</text></g>
<g font-family="'Liberation Serif', 'Times New Roman', serif" fill="#ffa500" stroke="#fff" stroke-width="0.3" transform="translate(247.80 390.30) scale(1.0 1.0)"><text transform="translate(0.47 0.00) scale(1.100 1)" font-size="28.60" font-style="italic" stroke-width="0.7">β</text><text x="14.32" y="11.20" font-size="20.50">0</text><text transform="translate(24.07 2.10) scale(1.452 1)" font-size="28.00">=</text><text x="45.80" y="0.00" font-size="29.00">2</text></g>
<g font-family="'Liberation Serif', 'Times New Roman', serif" fill="#00ff00" stroke="#fff" stroke-width="0.3" transform="translate(294.70 453.40) scale(1.0 1.0)"><text transform="translate(0.47 0.00) scale(1.100 1)" font-size="28.60" font-style="italic" stroke-width="0.7">β</text><text x="14.32" y="11.20" font-size="20.50">0</text><text transform="translate(24.07 2.10) scale(1.452 1)" font-size="28.00">=</text><text x="45.80" y="0.00" font-size="29.00">1</text></g>
<g font-family="'Liberation Serif', 'Times New Roman', serif" fill="#ff00ff" stroke="#fff" stroke-width="0.3" transform="translate(408.70 486.30) scale(1.0 1.0)"><text transform="translate(0.47 0.00) scale(1.100 1)" font-size="28.60" font-style="italic" stroke-width="0.7">β</text><text x="14.32" y="11.20" font-size="20.50">0</text><text transform="translate(24.07 2.10) scale(1.452 1)" font-size="28.00">=</text><text x="45.80" y="0.00" font-size="29.00">0.1</text></g>
<g font-family="'Liberation Serif', 'Times New Roman', serif" fill="#ff0000" stroke="#fff" stroke-width="0.3" transform="translate(430.10 44.20) scale(0.965 0.98)"><text transform="translate(0.42 0.00) scale(0.980 1)" font-size="28.60" font-style="italic" stroke-width="0.7">β</text><text x="14.32" y="11.20" font-size="20.50">0</text><text transform="translate(24.07 2.10) scale(1.452 1)" font-size="28.00">=</text><text x="45.80" y="0.00" font-size="29.00">0.01</text></g>
<g font-family="'Liberation Serif', 'Times New Roman', serif" fill="#ff00ff" stroke="#fff" stroke-width="0.3" transform="translate(722.70 70.00) scale(0.965 0.98)"><text transform="translate(0.42 0.00) scale(0.980 1)" font-size="28.60" font-style="italic" stroke-width="0.7">β</text><text x="14.32" y="11.20" font-size="20.50">0</text><text transform="translate(24.07 2.10) scale(1.452 1)" font-size="28.00">=</text><text x="45.80" y="0.00" font-size="29.00">0.1</text></g>
<g font-family="'Liberation Serif', 'Times New Roman', serif" fill="#8000ff" stroke="#fff" stroke-width="0.3" transform="translate(708.40 167.30) scale(0.965 0.98)"><text transform="translate(0.42 0.00) scale(0.980 1)" font-size="28.60" font-style="italic" stroke-width="0.7">β</text><text x="14.32" y="11.20" font-size="20.50">0</text><text transform="translate(24.07 2.10) scale(1.452 1)" font-size="28.00">=</text><text x="45.80" y="0.00" font-size="29.00">0.5</text></g>
<g font-family="'Liberation Serif', 'Times New Roman', serif" fill="#00ff00" stroke="#fff" stroke-width="0.3" transform="translate(628.20 214.50) scale(0.965 0.98)"><text transform="translate(0.42 0.00) scale(0.980 1)" font-size="28.60" font-style="italic" stroke-width="0.7">β</text><text x="14.32" y="11.20" font-size="20.50">0</text><text transform="translate(24.07 2.10) scale(1.452 1)" font-size="28.00">=</text><text x="45.80" y="0.00" font-size="29.00">1</text></g>
<g font-family="'Liberation Serif', 'Times New Roman', serif" fill="#0000ff" stroke="#fff" stroke-width="0.3" transform="translate(504.70 250.20) scale(0.965 0.98)"><text transform="translate(0.42 0.00) scale(0.980 1)" font-size="28.60" font-style="italic" stroke-width="0.7">β</text><text x="14.32" y="11.20" font-size="20.50">0</text><text transform="translate(24.07 2.10) scale(1.452 1)" font-size="28.00">=</text><text x="45.80" y="0.00" font-size="29.00">3</text></g>
<g font-family="'Liberation Serif', 'Times New Roman', serif" fill="#000" stroke="#fff" stroke-width="0.3" transform="translate(441.20 288.80) scale(0.965 0.98)"><text transform="translate(0.42 0.00) scale(0.980 1)" font-size="28.60" font-style="italic" stroke-width="0.7">β</text><text x="14.32" y="11.20" font-size="20.50">0</text><text transform="translate(26.82 2.10) scale(1.482 1)" font-size="28.00">=</text><text x="53.72" y="1.50" font-size="31.00">∞</text></g>
<g font-family="'Liberation Serif', 'Times New Roman', serif" fill="#000" stroke="#fff" stroke-width="0.2" transform="translate(428.70 552.70) scale(1.0 1.0)"><text transform="translate(-0.96 0.00) scale(1.030 1)" font-size="29.00" font-style="italic">ω</text><text x="20.18" y="12.80" font-size="21.60" stroke-width="0.1">0<tspan font-style="italic" dx="1.6" font-size="22.5">k</tspan></text></g>
<g font-family="'Liberation Serif', 'Times New Roman', serif" fill="#000" stroke="#fff" stroke-width="0.2" transform="translate(578.60 373.10) scale(0.97 0.97)"><text transform="translate(-0.96 0.00) scale(1.030 1)" font-size="29.00" font-style="italic">ω</text><text x="20.18" y="12.80" font-size="21.60" stroke-width="0.1">0<tspan font-style="italic" dx="1.6" font-size="22.5">k</tspan></text></g>
<g font-family="'Liberation Serif', 'Times New Roman', serif" fill="#000" stroke="#fff" stroke-width="0.4" transform="translate(26.20 279.60) rotate(-90) scale(1.0 1)"><text transform="translate(0.48 0.00) scale(1.060 1)" font-size="30.30" font-style="italic" stroke-width="0.7">β</text><text x="16.00" y="13.20" font-size="22.40">eff</text></g>
<g font-family="'Liberation Serif', 'Times New Roman', serif" fill="#000" stroke="#fff" stroke-width="0.4" transform="translate(339.30 208.80) rotate(-90) scale(0.96 1)"><text transform="translate(0.48 0.00) scale(1.060 1)" font-size="30.30" font-style="italic" stroke-width="0.7">β</text><text x="16.00" y="13.20" font-size="22.40">eff</text><text x="38.30" y="6.00" font-size="38.00">/</text><text transform="translate(47.78 0.00) scale(1.100 1)" font-size="28.18" font-style="italic" stroke-width="0.7">β</text><text x="62.15" y="13.00" font-size="20.16">0</text></g>
</svg>
</body></html>
